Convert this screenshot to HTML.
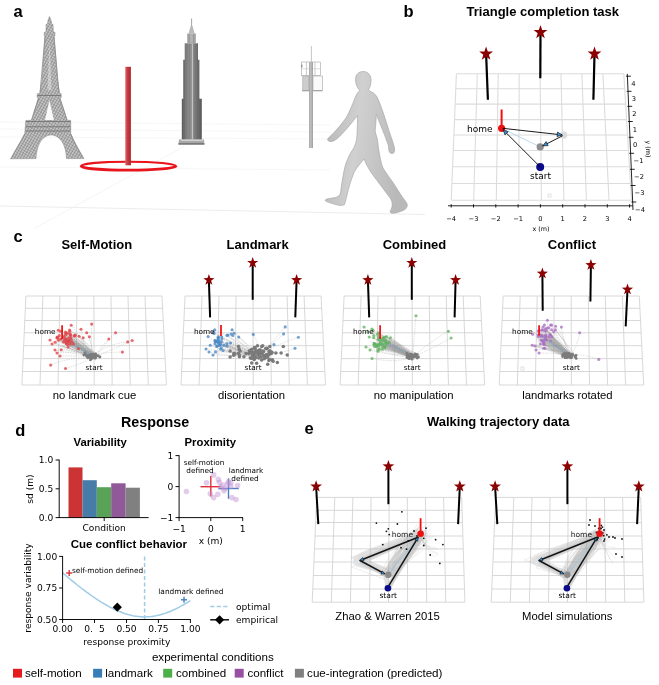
<!DOCTYPE html>
<html><head><meta charset="utf-8"><title>Figure</title>
<style>html,body{margin:0;padding:0;background:#fff;}svg{display:block;}</style></head>
<body><svg width="659" height="685" viewBox="0 0 659 685">
<rect width="659" height="685" fill="#fff"/>
<text x="13.6" y="17" font-size="16.5" text-anchor="start" font-weight="bold" font-family="Liberation Sans, Arial, sans-serif" fill="#000" >a</text>
<g stroke="#eeeeee" stroke-width="0.6" fill="none">
<line x1="0" y1="122" x2="330" y2="125" stroke="#f0f0f0" stroke-width="0.6" />
<line x1="0" y1="129" x2="330" y2="132" stroke="#f0f0f0" stroke-width="0.6" />
<line x1="0" y1="137" x2="330" y2="139" stroke="#f0f0f0" stroke-width="0.6" />
<line x1="0" y1="167" x2="330" y2="170" stroke="#f0f0f0" stroke-width="0.6" />
<line x1="0" y1="206" x2="425" y2="214.5" stroke="#e4e4e4" stroke-width="0.7" />
<line x1="35" y1="228" x2="185" y2="146" stroke="#eeeeee" stroke-width="0.6" />
</g>
<defs>
<pattern id="lat" width="2.6" height="2.6" patternUnits="userSpaceOnUse" patternTransform="rotate(30)">
<rect width="2.6" height="2.6" fill="#c6c6c6"/><line x1="0" y1="0" x2="0" y2="2.6" stroke="#666" stroke-width="0.9"/><line x1="0" y1="1.3" x2="2.6" y2="1.3" stroke="#8a8a8a" stroke-width="0.5"/>
</pattern>
<linearGradient id="pole" x1="0" x2="1" y1="0" y2="0"><stop offset="0" stop-color="#d8666a"/><stop offset="0.4" stop-color="#c93a40"/><stop offset="1" stop-color="#a8262d"/></linearGradient>
<linearGradient id="esb" x1="0" x2="1"><stop offset="0" stop-color="#5e5e5e"/><stop offset="0.25" stop-color="#8a8a8a"/><stop offset="0.5" stop-color="#9c9c9c"/><stop offset="0.75" stop-color="#787878"/><stop offset="1" stop-color="#5a5a5a"/></linearGradient>
<linearGradient id="man" x1="0" x2="1" y1="0" y2="0.2"><stop offset="0" stop-color="#b4b4b4"/><stop offset="0.45" stop-color="#d0d0d0"/><stop offset="1" stop-color="#b9b9b9"/></linearGradient>
</defs>
<path d="M49.5 16.5 L51.3 21 L51.5 23.5 L53 24.5 L53.3 32 L55 32.4 L55 35.7 L54 36.3 L55.5 55 L57.5 80 L59.6 93.5 L61.2 93.8 L61.2 97.5 L59.8 97.8 L63.5 109 L67 120.2 L70.7 120.5 L70.7 133.5 C74 142 79 150 84 158.6 L66.5 158.6 C66 142 58 135 51.3 135 C44 135 37 142 36 158.6 L10.5 158.8 C16 150 21 142 24.8 133.5 L25.8 120.5 L31.8 120.2 L35 109 L38.5 97.8 L37.2 97.5 L37.2 93.8 L39.9 93.5 L42 80 L43.8 55 L45 36.3 L44.2 35.7 L44.2 32.4 L46 32 L46 24.5 L47.8 23.5 L47.8 21 Z" fill="url(#lat)" stroke="#808080" stroke-width="0.5"/>
<path d="M49.4 100.5 L53.9 120 L45 120 Z" fill="#fafafa"/>
<path d="M49.5 40 L51.5 90 L47.5 90 Z" fill="#fff" opacity="0.35"/>
<path d="M37.5 95.5 H61 M26 121.5 H70.5 M26 126.8 H70.5 M25.5 131 H70.5" stroke="#7a7a7a" stroke-width="1.1" fill="none"/>
<path d="M45 36.5 L40 93 M54 36.5 L59 93 M38.6 98 L31.5 120 M59.8 98 L67 120 M24.8 134 C20 143 15 150 12 157.5 M70.7 134 C74 142 78 149 82.5 157" stroke="#8a8a8a" stroke-width="0.8" fill="none"/>
<path d="M81 166 A47.5 4.2 0 0 1 176 166" fill="none" stroke="#e8141c" stroke-width="2"/>
<path d="M81 166 A47.5 4.2 0 0 0 176 166" fill="none" stroke="#e8141c" stroke-width="2.8"/>
<rect x="125.3" y="66.8" width="5.6" height="98.5" fill="url(#pole)"/>
<line x1="191.6" y1="18.5" x2="191.6" y2="28.5" stroke="#8a8a8a" stroke-width="0.8"/>
<path d="M190.6 26 L192.6 26 L194.6 33.6 L188.6 33.6 Z" fill="#b9b9b9"/>
<rect x="187.1" y="33.4" width="8.9" height="10" fill="#b2b2b2"/>
<rect x="188.5" y="34" width="1" height="9" fill="#8a8a8a"/><rect x="193.3" y="34" width="1" height="9" fill="#8a8a8a"/>
<path d="M184.7 43.2 L198 43.2 L198 59.7 L199.3 59.7 L199.3 98.7 L201.8 98.7 L201.8 139.6 L181.8 139.6 L181.8 98.7 L183.2 98.7 L183.2 59.7 L184.7 59.7 Z" fill="url(#esb)"/>
<g stroke="#555" stroke-width="0.45" opacity="0.65">
<line x1="183.0" y1="99" x2="183.0" y2="139"/>
<line x1="184.6" y1="60" x2="184.6" y2="139"/>
<line x1="186.2" y1="44" x2="186.2" y2="139"/>
<line x1="187.8" y1="44" x2="187.8" y2="139"/>
<line x1="189.4" y1="44" x2="189.4" y2="139"/>
<line x1="191" y1="44" x2="191" y2="139"/>
<line x1="194.2" y1="44" x2="194.2" y2="139"/>
<line x1="195.8" y1="44" x2="195.8" y2="139"/>
<line x1="197.4" y1="44" x2="197.4" y2="139"/>
<line x1="199" y1="60" x2="199" y2="139"/>
<line x1="200.6" y1="99" x2="200.6" y2="139"/>
</g>
<rect x="191.9" y="44" width="1.1" height="95" fill="#c2c2c2"/>
<path d="M179 139.4 H204 L204.4 144.4 H178.5 Z" fill="#a8a8a8"/>
<path d="M178.5 143.2 H204.4 V144.6 H178.5 Z" fill="#6e6e6e"/>
<path d="M181 140.5 H203" stroke="#ddd" stroke-width="0.8"/>
<line x1="311.4" y1="46" x2="311.4" y2="62" stroke="#a0a0a0" stroke-width="0.6"/>
<g fill="none" stroke="#a4a4a4" stroke-width="0.6">
<rect x="301.6" y="62" width="19" height="13.4"/>
<line x1="306.4" y1="62" x2="306.4" y2="75.4"/><line x1="315" y1="62" x2="315" y2="75.4"/><line x1="301.6" y1="68.8" x2="320.6" y2="68.8" stroke="#c8c8c8"/>
<rect x="302.8" y="76" width="6" height="14.6" fill="#cdcdcd"/><rect x="313" y="76" width="9.6" height="14.6" fill="#fafafa"/>
</g>
<rect x="301.2" y="64.5" width="1.2" height="3" fill="#888"/>
<line x1="302" y1="90.8" x2="322.5" y2="90.8" stroke="#8c8c8c" stroke-width="0.8"/>
<rect x="309.1" y="62" width="3.9" height="86" fill="#a6a6a6"/>
<rect x="310.2" y="62" width="1.3" height="86" fill="#c4c4c4"/>
<path d="M363.2 71.5 C368.3 71.5 371.2 75.5 371.1 80.5 C371 85 369.6 88 368.6 89.6 L370.6 91.6 C374.5 93 377 96 378.2 99.5 C381 106 384.5 116 387.5 126 C389.5 133 392.5 140 394 146 C395.2 150 394.8 153.5 392 153.5 C389 153.5 388.5 150 388.6 146 C386 138 382.5 130 379.5 122.5 C377.5 117.5 376.8 115 376.2 114 C376.5 120 375.2 126 375.2 132 C377 137 378 141 378.2 146 C379.5 155 381 163 383 168 C386 173 390 178 394 184 C398 190 402 197 406 202 C408.5 205 407 208.5 404 210 C400 212 395 213.5 392 213.2 C389.8 213 389.8 211 391 209.5 C392.8 206.5 392.6 202 390.5 198.5 C385 191 378 182 372.5 174.5 C369 169.5 366 164 364 159 C360 164 356 168 354 172.5 C351 180 348.5 188 347 195 C346 199 345.5 202 344.5 204.5 C342.5 206 338 205.5 334 204 C330 202.8 326.5 202 325.2 200.6 C325 198.8 330 198.3 334 197.8 C338 197.2 340 195.5 340.6 192 C341.5 185 342.5 178 344 171 C345.5 163 349 155 352.5 150 C355 146.5 356.8 141 357 135 C357.2 128 357.8 121 357.5 115.5 C352.5 122 346 130 340 136 C336 140 332.5 142 330 141.5 C327 141 327 138.5 329.5 137 C334 133 340 126 346 118 C350 111 352.5 104 355 98 C356.5 94 358 92 359.8 90.6 C357.5 88 355.5 84.5 355.5 79.5 C355.5 74.5 358.5 71.5 363.2 71.5 Z" fill="url(#man)" stroke="#a0a0a0" stroke-width="0.6"/>
<text x="403.5" y="16.7" font-size="16.5" text-anchor="start" font-weight="bold" font-family="Liberation Sans, Arial, sans-serif" fill="#000" >b</text>
<text x="542.8" y="15.9" font-size="13" text-anchor="middle" font-weight="bold" font-family="Liberation Sans, Arial, sans-serif" fill="#000" >Triangle completion task</text>
<path d="M456.4 73.7H623.8M455.8 88.8H624.7M455.2 104.1H625.6M454.5 119.6H626.6M453.9 135H627.5M453.2 150.5H628.5M452.6 166.8H629.5M451.9 183.5H630.5M451.2 200.3H631.5M456.4 73.7L451.2 200.3M477.3 73.7L473.7 200.3M498.2 73.7L496.3 200.3M519.2 73.7L518.8 200.3M540.1 73.7L541.4 200.3M561 73.7L563.9 200.3M581.9 73.7L586.4 200.3M602.9 73.7L609 200.3M623.8 73.7L631.5 200.3" stroke="#dcdcdc" stroke-width="1.1" fill="none"/>
<line x1="448" y1="205.8" x2="632.8" y2="205.8" stroke="#000" stroke-width="0.85" />
<line x1="451.2" y1="204.2" x2="451.2" y2="207.6" stroke="#000" stroke-width="0.85" />
<text x="451.2" y="221.4" font-size="6.7" text-anchor="middle" font-weight="normal" font-family="DejaVu Sans, sans-serif" fill="#000" >−4</text>
<line x1="473.5" y1="204.2" x2="473.5" y2="207.6" stroke="#000" stroke-width="0.85" />
<text x="473.5" y="221.4" font-size="6.7" text-anchor="middle" font-weight="normal" font-family="DejaVu Sans, sans-serif" fill="#000" >−3</text>
<line x1="495.8" y1="204.2" x2="495.8" y2="207.6" stroke="#000" stroke-width="0.85" />
<text x="495.8" y="221.4" font-size="6.7" text-anchor="middle" font-weight="normal" font-family="DejaVu Sans, sans-serif" fill="#000" >−2</text>
<line x1="518.1" y1="204.2" x2="518.1" y2="207.6" stroke="#000" stroke-width="0.85" />
<text x="518.1" y="221.4" font-size="6.7" text-anchor="middle" font-weight="normal" font-family="DejaVu Sans, sans-serif" fill="#000" >−1</text>
<line x1="540.4" y1="204.2" x2="540.4" y2="207.6" stroke="#000" stroke-width="0.85" />
<text x="540.4" y="221.4" font-size="6.7" text-anchor="middle" font-weight="normal" font-family="DejaVu Sans, sans-serif" fill="#000" >0</text>
<line x1="562.7" y1="204.2" x2="562.7" y2="207.6" stroke="#000" stroke-width="0.85" />
<text x="562.7" y="221.4" font-size="6.7" text-anchor="middle" font-weight="normal" font-family="DejaVu Sans, sans-serif" fill="#000" >1</text>
<line x1="585" y1="204.2" x2="585" y2="207.6" stroke="#000" stroke-width="0.85" />
<text x="585" y="221.4" font-size="6.7" text-anchor="middle" font-weight="normal" font-family="DejaVu Sans, sans-serif" fill="#000" >2</text>
<line x1="607.3" y1="204.2" x2="607.3" y2="207.6" stroke="#000" stroke-width="0.85" />
<text x="607.3" y="221.4" font-size="6.7" text-anchor="middle" font-weight="normal" font-family="DejaVu Sans, sans-serif" fill="#000" >3</text>
<line x1="629.6" y1="204.2" x2="629.6" y2="207.6" stroke="#000" stroke-width="0.85" />
<text x="629.6" y="221.4" font-size="6.7" text-anchor="middle" font-weight="normal" font-family="DejaVu Sans, sans-serif" fill="#000" >4</text>
<text x="541" y="230.6" font-size="6.4" text-anchor="middle" font-weight="normal" font-family="DejaVu Sans, sans-serif" fill="#000" >x (m)</text>
<line x1="627.3" y1="73.8" x2="633" y2="210" stroke="#000" stroke-width="0.85" />
<line x1="626.1" y1="76.2" x2="630.9" y2="76.2" stroke="#000" stroke-width="0.85" />
<line x1="626.7" y1="91.3" x2="631.5" y2="91.3" stroke="#000" stroke-width="0.85" />
<line x1="627.4" y1="106.3" x2="632.2" y2="106.3" stroke="#000" stroke-width="0.85" />
<line x1="628" y1="121.5" x2="632.8" y2="121.5" stroke="#000" stroke-width="0.85" />
<line x1="628.7" y1="137.3" x2="633.5" y2="137.3" stroke="#000" stroke-width="0.85" />
<line x1="629.3" y1="153.3" x2="634.1" y2="153.3" stroke="#000" stroke-width="0.85" />
<line x1="630" y1="169.3" x2="634.8" y2="169.3" stroke="#000" stroke-width="0.85" />
<line x1="630.7" y1="185.5" x2="635.5" y2="185.5" stroke="#000" stroke-width="0.85" />
<line x1="631.4" y1="202" x2="636.2" y2="202" stroke="#000" stroke-width="0.85" />
<text x="631.3" y="86.2" font-size="6.7" text-anchor="start" font-weight="normal" font-family="DejaVu Sans, sans-serif" fill="#000" >4</text>
<text x="631.7" y="101.1" font-size="6.7" text-anchor="start" font-weight="normal" font-family="DejaVu Sans, sans-serif" fill="#000" >3</text>
<text x="632.2" y="116" font-size="6.7" text-anchor="start" font-weight="normal" font-family="DejaVu Sans, sans-serif" fill="#000" >2</text>
<text x="632.7" y="131.6" font-size="6.7" text-anchor="start" font-weight="normal" font-family="DejaVu Sans, sans-serif" fill="#000" >1</text>
<text x="633.1" y="147.2" font-size="6.7" text-anchor="start" font-weight="normal" font-family="DejaVu Sans, sans-serif" fill="#000" >0</text>
<text x="633.6" y="163.1" font-size="6.7" text-anchor="start" font-weight="normal" font-family="DejaVu Sans, sans-serif" fill="#000" >−1</text>
<text x="634.1" y="179.3" font-size="6.7" text-anchor="start" font-weight="normal" font-family="DejaVu Sans, sans-serif" fill="#000" >−2</text>
<text x="634.6" y="195.4" font-size="6.7" text-anchor="start" font-weight="normal" font-family="DejaVu Sans, sans-serif" fill="#000" >−3</text>
<text x="635.1" y="212" font-size="6.7" text-anchor="start" font-weight="normal" font-family="DejaVu Sans, sans-serif" fill="#000" >−4</text>
<text x="645.5" y="149" font-size="6.4" text-anchor="middle" font-weight="normal" font-family="DejaVu Sans, sans-serif" fill="#000" transform="rotate(90 645.5 149)">y (m)</text>
<line x1="486.1" y1="53.9" x2="487.9" y2="99.7" stroke="#000" stroke-width="2.2" />
<polygon points="486.1,46.6 487.8,51.5 493,51.6 488.9,54.8 490.4,59.8 486.1,56.8 481.8,59.8 483.3,54.8 479.2,51.6 484.4,51.5" fill="#8b0000"/>
<line x1="540.5" y1="32.3" x2="540.3" y2="78.2" stroke="#000" stroke-width="2.2" />
<polygon points="540.5,25 542.2,29.9 547.4,30 543.3,33.2 544.8,38.2 540.5,35.2 536.2,38.2 537.7,33.2 533.6,30 538.8,29.9" fill="#8b0000"/>
<line x1="594.5" y1="53.9" x2="593.4" y2="99.7" stroke="#000" stroke-width="2.2" />
<polygon points="594.5,46.6 596.2,51.5 601.4,51.6 597.3,54.8 598.8,59.8 594.5,56.8 590.2,59.8 591.7,54.8 587.6,51.6 592.8,51.5" fill="#8b0000"/>
<rect x="548" y="194" width="3" height="3" fill="none" stroke="#cfcfcf" stroke-width="0.6"/>
<line x1="540.2" y1="146.9" x2="501.6" y2="128.3" stroke="#a6d4ea" stroke-width="0.8" />
<circle cx="563.7" cy="135.2" r="3.6" fill="#dcdcdc"/>
<circle cx="540.2" cy="146.9" r="3.6" fill="#8c8c8c"/>
<line x1="501.6" y1="126.3" x2="501.6" y2="109.5" stroke="#f01010" stroke-width="2" />
<circle cx="501.6" cy="128.3" r="3.6" fill="#ee1111"/>
<circle cx="540.2" cy="166.9" r="4" fill="#0a0a8a"/>
<line x1="540.2" y1="166.9" x2="503.1" y2="129.8" stroke="#000" stroke-width="0.9" />
<polygon points="503.1,129.8 508.2,131.7 505,134.9" fill="#3d8fd0" stroke="#000" stroke-width="0.6"/>
<line x1="502.6" y1="128.3" x2="562.2" y2="134.9" stroke="#000" stroke-width="0.9" />
<polygon points="562.2,134.9 557,136.6 557.5,132.1" fill="#3d8fd0" stroke="#000" stroke-width="0.6"/>
<line x1="562.7" y1="135.7" x2="542.7" y2="145.9" stroke="#000" stroke-width="0.9" />
<polygon points="542.7,145.9 546.1,141.6 548.2,145.6" fill="#3d8fd0" stroke="#000" stroke-width="0.6"/>
<text x="467" y="132" font-size="9" text-anchor="start" font-weight="normal" font-family="DejaVu Sans, sans-serif" fill="#000" >home</text>
<text x="540.5" y="179" font-size="9" text-anchor="middle" font-weight="normal" font-family="DejaVu Sans, sans-serif" fill="#000" >start</text>
<text x="13.6" y="241.7" font-size="16.5" text-anchor="start" font-weight="bold" font-family="Liberation Sans, Arial, sans-serif" fill="#000" >c</text>
<text x="96.8" y="249.2" font-size="13" text-anchor="middle" font-weight="bold" font-family="Liberation Sans, Arial, sans-serif" fill="#000" >Self-Motion</text>
<path d="M25.9 296H162M25.3 308.3H162.6M24.8 320.5H163.2M24.2 332.8H163.8M23.7 345.7H164.5M23.1 358.6H165.1M22.5 371.5H165.7M21.9 385H166.4M25.9 296L21.9 385M42.9 296L40 385M59.9 296L58 385M76.9 296L76.1 385M93.9 296L94.2 385M111 296L112.2 385M128 296L130.3 385M145 296L148.3 385M162 296L166.4 385" stroke="#d4d4d4" stroke-width="0.9" fill="none"/>
<text x="94.5" y="398.5" font-size="11.3" text-anchor="middle" font-weight="normal" font-family="Liberation Sans, Arial, sans-serif" fill="#000" >no landmark cue</text>
<text x="257.6" y="249.2" font-size="13" text-anchor="middle" font-weight="bold" font-family="Liberation Sans, Arial, sans-serif" fill="#000" >Landmark</text>
<path d="M185 296H321.1M184.4 308.3H321.7M183.9 320.5H322.3M183.3 332.8H322.9M182.8 345.7H323.6M182.2 358.6H324.2M181.6 371.5H324.8M181 385H325.5M185 296L181 385M202 296L199.1 385M219 296L217.1 385M236 296L235.2 385M253.1 296L253.2 385M270.1 296L271.3 385M287.1 296L289.4 385M304.1 296L307.4 385M321.1 296L325.5 385" stroke="#d4d4d4" stroke-width="0.9" fill="none"/>
<text x="251.5" y="398.5" font-size="11.3" text-anchor="middle" font-weight="normal" font-family="Liberation Sans, Arial, sans-serif" fill="#000" >disorientation</text>
<text x="414.5" y="249.2" font-size="13" text-anchor="middle" font-weight="bold" font-family="Liberation Sans, Arial, sans-serif" fill="#000" >Combined</text>
<path d="M344.1 296H480.2M343.5 308.3H480.8M343 320.5H481.4M342.4 332.8H482M341.9 345.7H482.7M341.3 358.6H483.3M340.7 371.5H483.9M340.1 385H484.6M344.1 296L340.1 385M361.1 296L358.2 385M378.1 296L376.2 385M395.1 296L394.3 385M412.1 296L412.4 385M429.2 296L430.4 385M446.2 296L448.5 385M463.2 296L466.5 385M480.2 296L484.6 385" stroke="#d4d4d4" stroke-width="0.9" fill="none"/>
<text x="413.6" y="398.5" font-size="11.3" text-anchor="middle" font-weight="normal" font-family="Liberation Sans, Arial, sans-serif" fill="#000" >no manipulation</text>
<text x="572" y="249.2" font-size="13" text-anchor="middle" font-weight="bold" font-family="Liberation Sans, Arial, sans-serif" fill="#000" >Conflict</text>
<path d="M503.2 296H639.3M502.6 308.3H639.9M502.1 320.5H640.5M501.5 332.8H641.1M501 345.7H641.8M500.4 358.6H642.4M499.8 371.5H643M499.2 385H643.7M503.2 296L499.2 385M520.2 296L517.3 385M537.2 296L535.3 385M554.2 296L553.4 385M571.2 296L571.4 385M588.3 296L589.5 385M605.3 296L607.6 385M622.3 296L625.6 385M639.3 296L643.7 385" stroke="#d4d4d4" stroke-width="0.9" fill="none"/>
<text x="567.4" y="398.5" font-size="11.3" text-anchor="middle" font-weight="normal" font-family="Liberation Sans, Arial, sans-serif" fill="#000" >landmarks rotated</text>
<line x1="208.9" y1="280" x2="210.1" y2="317.4" stroke="#000" stroke-width="2" />
<polygon points="208.9,274.1 210.3,278.1 214.5,278.2 211.1,280.7 212.4,284.8 208.9,282.4 205.4,284.8 206.7,280.7 203.3,278.2 207.5,278.1" fill="#8b0000"/>
<line x1="252.7" y1="262.9" x2="252.7" y2="299.8" stroke="#000" stroke-width="2" />
<polygon points="252.7,257 254.1,261 258.3,261.1 254.9,263.6 256.2,267.7 252.7,265.3 249.2,267.7 250.5,263.6 247.1,261.1 251.3,261" fill="#8b0000"/>
<line x1="296.6" y1="280" x2="295.3" y2="317.4" stroke="#000" stroke-width="2" />
<polygon points="296.6,274.1 298,278.1 302.2,278.2 298.8,280.7 300.1,284.8 296.6,282.4 293.1,284.8 294.4,280.7 291,278.2 295.2,278.1" fill="#8b0000"/>
<line x1="367.9" y1="280" x2="369.2" y2="317.4" stroke="#000" stroke-width="2" />
<polygon points="367.9,274.1 369.3,278.1 373.5,278.2 370.1,280.7 371.4,284.8 367.9,282.4 364.4,284.8 365.7,280.7 362.3,278.2 366.5,278.1" fill="#8b0000"/>
<line x1="411.8" y1="262.9" x2="411.8" y2="299.8" stroke="#000" stroke-width="2" />
<polygon points="411.8,257 413.2,261 417.4,261.1 414,263.6 415.3,267.7 411.8,265.3 408.3,267.7 409.6,263.6 406.2,261.1 410.4,261" fill="#8b0000"/>
<line x1="455.6" y1="280" x2="454.6" y2="317.4" stroke="#000" stroke-width="2" />
<polygon points="455.6,274.1 457,278.1 461.2,278.2 457.8,280.7 459.1,284.8 455.6,282.4 452.1,284.8 453.4,280.7 450,278.2 454.2,278.1" fill="#8b0000"/>
<line x1="542.4" y1="273.5" x2="542.7" y2="310.7" stroke="#000" stroke-width="2" />
<polygon points="542.4,267.6 543.8,271.6 548,271.7 544.6,274.2 545.9,278.3 542.4,275.9 538.9,278.3 540.2,274.2 536.8,271.7 541,271.6" fill="#8b0000"/>
<line x1="590.9" y1="265" x2="590.4" y2="301.6" stroke="#000" stroke-width="2" />
<polygon points="590.9,259.1 592.3,263.1 596.5,263.2 593.1,265.7 594.4,269.8 590.9,267.4 587.4,269.8 588.7,265.7 585.3,263.2 589.5,263.1" fill="#8b0000"/>
<line x1="627.5" y1="289.5" x2="625.7" y2="326.4" stroke="#000" stroke-width="2" />
<polygon points="627.5,283.6 628.9,287.6 633.1,287.7 629.7,290.2 631,294.3 627.5,291.9 624,294.3 625.3,290.2 621.9,287.7 626.1,287.6" fill="#8b0000"/>
<g fill="none" stroke="#9a9a9a" stroke-width="0.45" stroke-dasharray="1.5 1" opacity="0.7">
<path d="M94.3 355.1Q76.8 350.4 58.3 340.3"/>
<path d="M96.2 356.7Q81.8 346.6 70.5 334.9"/>
<path d="M92.5 356.8Q76.1 350.9 57.7 337.6"/>
<path d="M90.4 355.1Q85.3 349.4 67.6 344.6"/>
<path d="M97.1 355Q77.1 344.7 58.3 330.2"/>
<path d="M93.7 353.6Q81.4 350.4 68.9 340.8"/>
<path d="M96 355.1Q86.9 356.9 73.4 343.9"/>
<path d="M99 356.6Q77.6 346.8 64.4 336.4"/>
<path d="M93.8 357.9Q87 350.8 79.1 336.3"/>
<path d="M95.4 357.4Q74.6 342.2 60.7 331.2"/>
<path d="M90.4 355.3Q82.4 348.3 65.5 338.9"/>
<path d="M95.2 355.7Q76.1 345.2 63.1 337.6"/>
<path d="M93.3 356.1Q83.4 349.3 66.5 342.2"/>
<path d="M93 355.8Q84.2 350.2 71 339.3"/>
<path d="M96.9 355.8Q69.1 353.9 55.2 342.2"/>
<path d="M94.3 356.2Q73.7 342.8 57.2 337"/>
<path d="M92.4 353.6Q84.2 347.7 56.9 338"/>
<path d="M90.8 356.2Q83 348.2 60.7 339.3"/>
<path d="M96.2 356.6Q82.1 357.3 83.2 337.7"/>
<path d="M93.7 354.4Q81.1 336.6 69.6 330.1"/>
<path d="M92.2 357.2Q81.1 342.6 63.4 342"/>
<path d="M90.9 356.9Q85.8 344.6 64.5 340.2"/>
<path d="M92.6 355.3Q83.2 341 65.6 332"/>
<path d="M96.5 356.7Q76.3 342.5 68.1 333.1"/>
<path d="M93.7 355Q92.9 345.2 75.3 335"/>
<path d="M90.4 356.7Q80.9 343.1 68.8 338"/>
<path d="M96.7 356.3Q87.9 347.7 70.2 334.4"/>
<path d="M93.3 354.9Q79.4 346.9 70.5 337.3"/>
<path d="M94 356.2Q76.2 344.4 71.9 341.7"/>
<path d="M94.4 356.6Q78 348.9 65.8 333.3"/>
<path d="M90.1 356.8Q86.5 345.9 69.2 340.8"/>
<path d="M94.7 357Q81.3 349.8 74 335.7"/>
<path d="M95.4 355.3Q84.1 342.3 68.1 341"/>
<path d="M95.5 356.9Q77.3 346.3 66.6 339.3"/>
<path d="M92.8 353.6Q84 340.2 66 334.4"/>
<path d="M92.5 356.2Q76.3 347.6 59.4 335.6"/>
<path d="M92.4 355.2Q82.1 354.6 68.2 347.1"/>
<path d="M96.2 355.9Q79.1 355.4 70.4 344.3"/>
<path d="M94.4 355.8Q82.5 349.4 69.3 342.2"/>
<path d="M92.7 357.7Q78.7 345.5 66 342.6"/>
<path d="M93.6 356.1Q86.5 346.2 74.8 336"/>
<path d="M94.4 356.2Q79 350.9 61.2 349.8"/>
<path d="M92 354.9Q77.2 347.5 66.3 343.8"/>
<path d="M93.5 355.4Q85.5 336.5 69.8 331.2"/>
<path d="M96.3 356.1Q83.7 352.6 78.4 348.7"/>
<path d="M93.7 356.9Q82 338.8 71.2 325.3"/>
<path d="M91.5 354.9Q91.3 336.6 91.7 324.1"/>
<path d="M94.7 355.8Q99.2 347.7 115.6 332.8"/>
<path d="M95.5 356.8Q118.9 346.3 132.2 340.5"/>
<path d="M92.1 356.9Q104.7 344.3 127.7 341.9"/>
<path d="M96.1 355.6Q106.6 343.8 108.8 339"/>
<path d="M93.4 354.2Q106.6 352.4 122.4 352.1"/>
<path d="M95 358.1Q68.3 356.8 50.7 365.1"/>
<path d="M90.6 355.6Q90.7 361.2 65.5 368.5"/>
<path d="M95.1 355.3Q83.7 348.5 81 329.2"/>
<path d="M90.7 355.5Q94.1 346 86.7 332.8"/>
<path d="M94.3 355.7Q90.7 346.4 89.4 336.7"/>
<path d="M92.2 357.5Q73.8 348.2 52 344"/>
<path d="M90.8 355.8Q75.9 354.3 55 350"/>
<path d="M96.2 355.6Q78.8 350.6 57 353"/>
<path d="M94.4 357.2Q78.6 355.6 60 356"/>
<path d="M92.4 355.1Q70.4 352.7 50 340"/>
</g>
<g stroke="#747474" stroke-width="0.5" opacity="0.38" fill="none">
<path d="M67 336Q81.8 343.9 93.1 357.1"/>
<path d="M66.3 344.3Q80.7 349.5 97 355.7"/>
<path d="M60.5 338.3Q78.8 346.7 93.5 355.8"/>
<path d="M59.4 341.9Q75.2 348.2 91.3 355.5"/>
<path d="M61 338.3Q80 348.5 99.5 355.3"/>
<path d="M67.1 341.1Q80.3 347.6 96.2 353.6"/>
<path d="M66.2 342.6Q80.8 348.9 95.2 355.7"/>
<path d="M65.4 340.9Q78 349.6 93.2 355"/>
<path d="M69 341.8Q82.6 350.4 96.1 357"/>
<path d="M60.8 338.4Q75.6 347.5 92.2 356.9"/>
<path d="M65.9 342.8Q80.2 347.2 92 354.9"/>
<path d="M66.1 337.4Q81 344.9 93.7 353.8"/>
<path d="M61.4 344.8Q79.2 352 95.8 360.2"/>
<path d="M64.9 343.5Q80.2 348.7 93.9 356.5"/>
<path d="M65 337.6Q78.9 347.4 90.9 357"/>
<path d="M61.3 333.4Q75.7 344.5 95.2 355.9"/>
<path d="M59.2 338.9Q77.1 347.9 94.4 356.4"/>
<path d="M60.5 337.9Q77 347.8 92.7 355.7"/>
<path d="M70.2 331.8Q86 345.2 95 355.8"/>
<path d="M58.7 340.1Q74.1 348.5 92.7 357.2"/>
<path d="M64 338.7Q79 347.8 92.5 353.8"/>
<path d="M64.3 336.2Q79.1 346.4 94.5 356.7"/>
<path d="M69.4 335.9Q80 343.7 92.6 353.7"/>
<path d="M61.1 337.1Q79.6 349.7 98.5 355.8"/>
<path d="M64.3 334.1Q82.1 342.6 95 354.9"/>
<path d="M62.5 334.5Q78.3 344.1 94.2 354.8"/>
<path d="M62.4 341.6Q78 347.3 96.3 356.1"/>
<path d="M65.4 345.7Q78.1 348.7 92.9 355.1"/>
<path d="M61.1 338.4Q78.6 344.8 97.6 356"/>
<path d="M65.2 338.9Q78 348.3 90.9 354.7"/>
<path d="M66.7 339.6Q79.9 351.2 93.2 356.4"/>
<path d="M60.5 338Q81 346.8 97.2 355.7"/>
<path d="M65 338Q81.1 347.4 90.5 354.8"/>
<path d="M66.6 341.7Q80.6 349.1 95.4 357.2"/>
<path d="M67.9 338Q78.5 347.8 90.7 355.7"/>
<path d="M62 336Q77.5 347.2 93.2 357.9"/>
<path d="M64.5 339.8Q78 350.8 96.3 357.7"/>
<path d="M64.5 338.1Q85.2 348.4 100 355.8"/>
<path d="M60.9 340.4Q74.9 347.6 95.8 355.8"/>
<path d="M63.8 335.9Q80.6 345.4 98.6 355.7"/>
<path d="M61.8 336.8Q77.2 346.5 94.2 356.4"/>
<path d="M59.6 340.5Q74.5 347.6 92.1 356.3"/>
<path d="M65.3 335.6Q82.6 344.7 100.2 356"/>
<path d="M70.1 342.9Q81.7 349.5 94.7 354.4"/>
<path d="M62.7 335.7Q76.9 344.4 91 355.1"/>
<path d="M64.6 346.8Q82 350.9 98.4 354.8"/>
<path d="M64 341.9Q78 348.6 93.2 355.6"/>
<path d="M69 341.2Q78.6 349.5 90.6 355.5"/>
<path d="M65.3 341.5Q80.2 347.9 93.8 353.7"/>
<path d="M66.3 335.4Q79.2 345.8 94.2 355.2"/>
<path d="M65.7 336.5Q76.9 346.4 89.7 353"/>
<path d="M64.3 332.7Q80.6 346.4 91.8 356.5"/>
<path d="M65.8 339.6Q78.1 346.3 91.4 355.5"/>
<path d="M64.7 337.9Q80.9 348.4 94.8 357.7"/>
<path d="M63.7 334.7Q77.2 347.6 93.7 356.7"/>
<path d="M63.3 340Q81.4 345.5 93.2 354.5"/>
<path d="M67.7 337.4Q80.6 347.6 94.7 355"/>
<path d="M71.3 336.6Q81.7 347.9 94 357.1"/>
<path d="M61.8 340.7Q79 347.3 95.1 357.5"/>
<path d="M66.8 335.9Q82.2 346 95.9 357.8"/>
<path d="M68.7 339.5Q81.9 347.1 90.9 355.6"/>
<path d="M64.9 338Q77.9 347 89.8 355.4"/>
<path d="M63.9 333Q82 346.9 97.1 356.9"/>
<path d="M62.9 337.3Q76.3 347.3 94.8 358"/>
<path d="M62 340.6Q78 348.2 97.7 355.6"/>
<path d="M63.5 334.7Q80.9 343.1 96.2 355.4"/>
<path d="M68.3 335Q84.6 343.8 96.6 353.8"/>
<path d="M59.1 338.3Q76.2 347 94.8 354.8"/>
<path d="M63.9 330.4Q78.9 345 92.9 356.5"/>
<path d="M62.1 346.1Q80.7 352.7 96 356.4"/>
</g>
<line x1="63.5" y1="339" x2="94" y2="356" stroke="#6aa6d0" stroke-width="0.7" />
<g fill="#7c7c7c">
<circle cx="92.3" cy="355.2" r="1.4"/>
<circle cx="95.5" cy="356.5" r="1.4"/>
<circle cx="85.6" cy="354.6" r="1.4"/>
<circle cx="93.6" cy="356.1" r="1.4"/>
<circle cx="93" cy="356.8" r="1.4"/>
<circle cx="92.5" cy="358.1" r="1.4"/>
<circle cx="90" cy="355.5" r="1.4"/>
<circle cx="93.1" cy="357" r="1.4"/>
<circle cx="94.7" cy="357.9" r="1.4"/>
<circle cx="90.4" cy="357.5" r="1.4"/>
<circle cx="93.6" cy="354.6" r="1.4"/>
<circle cx="91.5" cy="358.7" r="1.4"/>
<circle cx="94.7" cy="355.4" r="1.4"/>
<circle cx="83.8" cy="355" r="1.4"/>
<circle cx="89.6" cy="356.1" r="1.4"/>
<circle cx="99.9" cy="357" r="1.4"/>
<circle cx="93.1" cy="354.8" r="1.4"/>
<circle cx="88" cy="355.7" r="1.4"/>
<circle cx="90.4" cy="359.9" r="1.4"/>
<circle cx="90.6" cy="355.2" r="1.4"/>
<circle cx="95.8" cy="356.1" r="1.4"/>
<circle cx="87.8" cy="357.7" r="1.4"/>
<circle cx="90.9" cy="354.3" r="1.4"/>
<circle cx="93.1" cy="356.6" r="1.4"/>
<circle cx="90.9" cy="356.9" r="1.4"/>
<circle cx="94.8" cy="354.9" r="1.4"/>
<circle cx="85" cy="352.9" r="1.4"/>
<circle cx="91.6" cy="357.6" r="1.4"/>
<circle cx="95.4" cy="357.8" r="1.4"/>
<circle cx="98.3" cy="356" r="1.4"/>
<circle cx="95.6" cy="354" r="1.4"/>
<circle cx="94.3" cy="356.5" r="1.4"/>
<circle cx="91.7" cy="355.4" r="1.4"/>
<circle cx="88.2" cy="356.2" r="1.4"/>
<circle cx="96.3" cy="355.5" r="1.4"/>
<circle cx="93.8" cy="355.1" r="1.4"/>
<circle cx="92.9" cy="354.7" r="1.4"/>
<circle cx="93.3" cy="355.7" r="1.4"/>
<circle cx="93.1" cy="355.2" r="1.4"/>
<circle cx="88" cy="355.6" r="1.4"/>
<circle cx="95.5" cy="358.1" r="1.4"/>
<circle cx="90.9" cy="357" r="1.4"/>
<circle cx="94.6" cy="356.5" r="1.4"/>
<circle cx="86.7" cy="356.4" r="1.4"/>
<circle cx="88.7" cy="357.5" r="1.4"/>
</g>
<g fill="#e04346" fill-opacity="0.78">
<circle cx="58.3" cy="340.3" r="1.55"/>
<circle cx="70.5" cy="334.9" r="1.55"/>
<circle cx="57.7" cy="337.6" r="1.55"/>
<circle cx="67.6" cy="344.6" r="1.55"/>
<circle cx="58.3" cy="330.2" r="1.55"/>
<circle cx="68.9" cy="340.8" r="1.55"/>
<circle cx="73.4" cy="343.9" r="1.55"/>
<circle cx="64.4" cy="336.4" r="1.55"/>
<circle cx="79.1" cy="336.3" r="1.55"/>
<circle cx="60.7" cy="331.2" r="1.55"/>
<circle cx="65.5" cy="338.9" r="1.55"/>
<circle cx="63.1" cy="337.6" r="1.55"/>
<circle cx="66.5" cy="342.2" r="1.55"/>
<circle cx="71" cy="339.3" r="1.55"/>
<circle cx="55.2" cy="342.2" r="1.55"/>
<circle cx="57.2" cy="337" r="1.55"/>
<circle cx="56.9" cy="338" r="1.55"/>
<circle cx="60.7" cy="339.3" r="1.55"/>
<circle cx="83.2" cy="337.7" r="1.55"/>
<circle cx="69.6" cy="330.1" r="1.55"/>
<circle cx="63.4" cy="342" r="1.55"/>
<circle cx="64.5" cy="340.2" r="1.55"/>
<circle cx="65.6" cy="332" r="1.55"/>
<circle cx="68.1" cy="333.1" r="1.55"/>
<circle cx="75.3" cy="335" r="1.55"/>
<circle cx="68.8" cy="338" r="1.55"/>
<circle cx="70.2" cy="334.4" r="1.55"/>
<circle cx="70.5" cy="337.3" r="1.55"/>
<circle cx="71.9" cy="341.7" r="1.55"/>
<circle cx="65.8" cy="333.3" r="1.55"/>
<circle cx="69.2" cy="340.8" r="1.55"/>
<circle cx="74" cy="335.7" r="1.55"/>
<circle cx="68.1" cy="341" r="1.55"/>
<circle cx="66.6" cy="339.3" r="1.55"/>
<circle cx="66" cy="334.4" r="1.55"/>
<circle cx="59.4" cy="335.6" r="1.55"/>
<circle cx="68.2" cy="347.1" r="1.55"/>
<circle cx="70.4" cy="344.3" r="1.55"/>
<circle cx="69.3" cy="342.2" r="1.55"/>
<circle cx="66" cy="342.6" r="1.55"/>
<circle cx="74.8" cy="336" r="1.55"/>
<circle cx="61.2" cy="349.8" r="1.55"/>
<circle cx="66.3" cy="343.8" r="1.55"/>
<circle cx="69.8" cy="331.2" r="1.55"/>
<circle cx="78.4" cy="348.7" r="1.55"/>
<circle cx="71.2" cy="325.3" r="1.55"/>
<circle cx="91.7" cy="324.1" r="1.55"/>
<circle cx="115.6" cy="332.8" r="1.55"/>
<circle cx="132.2" cy="340.5" r="1.55"/>
<circle cx="127.7" cy="341.9" r="1.55"/>
<circle cx="108.8" cy="339" r="1.55"/>
<circle cx="122.4" cy="352.1" r="1.55"/>
<circle cx="50.7" cy="365.1" r="1.55"/>
<circle cx="65.5" cy="368.5" r="1.55"/>
<circle cx="81" cy="329.2" r="1.55"/>
<circle cx="86.7" cy="332.8" r="1.55"/>
<circle cx="89.4" cy="336.7" r="1.55"/>
<circle cx="52" cy="344" r="1.55"/>
<circle cx="55" cy="350" r="1.55"/>
<circle cx="57" cy="353" r="1.55"/>
<circle cx="60" cy="356" r="1.55"/>
<circle cx="50" cy="340" r="1.55"/>
</g>
<g fill="none" stroke="#9a9a9a" stroke-width="0.45" stroke-dasharray="1.5 1" opacity="0.7">
<path d="M260 355.1Q238.4 352.9 227 343.5"/>
<path d="M260.7 355.3Q236.9 350.7 215 340.4"/>
<path d="M262.8 357.5Q236.6 355.1 217.1 345.7"/>
<path d="M257.4 355.9Q234 350.8 219.2 342.9"/>
<path d="M258 357.8Q241.9 343.6 231.2 334.1"/>
<path d="M258.1 355.2Q238.5 345.5 213.4 332.3"/>
<path d="M259.7 358Q233.2 354.4 210.2 345.3"/>
<path d="M254.8 356.4Q240.3 352.5 220.6 349.2"/>
<path d="M256.7 356Q226.2 350.9 208.1 336.6"/>
<path d="M256.1 357.1Q237.1 349.6 226.9 346.1"/>
<path d="M254.1 355.9Q241.9 347.1 223.9 345.4"/>
<path d="M259.2 355.8Q236.6 345.1 219.2 340.9"/>
<path d="M256.9 355.5Q239 348.8 219.2 345.2"/>
<path d="M258.8 354.3Q231.6 351.2 218.1 342.6"/>
<path d="M258.5 357.3Q242.9 349.1 227 335.4"/>
<path d="M255.4 355.1Q235.4 349.9 214.9 343.8"/>
<path d="M258.5 356.5Q230.5 345.4 217.6 340.2"/>
<path d="M256 356.4Q248.9 349.9 230.5 343.1"/>
<path d="M261.9 357Q236.8 356.6 216.7 346.5"/>
<path d="M258.4 355.3Q240.9 344.2 232.8 335.5"/>
<path d="M259.7 356.2Q238.8 350.8 215.3 341.6"/>
<path d="M257.8 357.3Q233.2 351.4 215.5 351.9"/>
<path d="M258.7 356.7Q246.2 350.4 221.9 339"/>
<path d="M259.7 354.5Q243.1 350.4 221.7 337"/>
<path d="M257.1 356.5Q240.6 349.9 215.7 341.5"/>
<path d="M254.6 356.1Q246.2 342.7 232.1 329.7"/>
<path d="M254.8 356.5Q241.9 351.7 221.3 347.8"/>
<path d="M258.9 355.6Q243.4 353.8 223.1 350.6"/>
<path d="M257.3 356.2Q237.1 350.4 221.5 341.7"/>
<path d="M258.3 354.4Q251.2 348.5 218.3 336.7"/>
<path d="M256.6 355.8Q243.4 347.8 228 335.1"/>
<path d="M256.8 356.7Q229.1 348.9 218.3 338.4"/>
<path d="M260 356.3Q241.8 342.5 214.7 329.9"/>
<path d="M256.3 357.3Q236.6 348 216.9 341.7"/>
<path d="M259.7 355.3Q242.4 347.6 219.8 345.2"/>
<path d="M255.4 357.2Q232 350.5 218.1 337.8"/>
<path d="M259 357.2Q240.1 352.9 220.7 344.3"/>
<path d="M258.5 357.1Q237.4 346.4 214 333.4"/>
<path d="M261 355.9Q270 344.5 285.2 326.9"/>
<path d="M257.4 356.3Q272.6 343.4 283.6 333.9"/>
<path d="M257.9 356.2Q276.8 344 298.4 337.3"/>
<path d="M254.5 357.4Q277.8 354.3 295 348.3"/>
<path d="M257.3 356.4Q265.3 348 274 344.6"/>
<path d="M258.3 354.4Q259.1 344.1 253.3 334.4"/>
<path d="M257.1 356.9Q246.7 344.3 234 333.2"/>
<path d="M256.4 357.5Q255.5 349.6 238.7 337.1"/>
<path d="M256.8 356.5Q230.7 352.4 206 349"/>
<path d="M257.6 355.9Q237.7 355.9 213 355"/>
<path d="M257 355.9Q231.9 356.9 209 352"/>
</g>
<g fill="#7a7a7a">
<circle cx="267.7" cy="356.8" r="1.75"/>
<circle cx="239.4" cy="356.8" r="1.75"/>
<circle cx="266.9" cy="348.3" r="1.75"/>
<circle cx="269.2" cy="354.3" r="1.75"/>
<circle cx="259.4" cy="350.8" r="1.75"/>
<circle cx="252.3" cy="352" r="1.75"/>
<circle cx="287.2" cy="354.9" r="1.75"/>
<circle cx="262.8" cy="351.1" r="1.75"/>
<circle cx="255.8" cy="351.5" r="1.75"/>
<circle cx="253.5" cy="357.9" r="1.75"/>
<circle cx="258.7" cy="357.9" r="1.75"/>
<circle cx="251.2" cy="358.2" r="1.75"/>
<circle cx="260.8" cy="357" r="1.75"/>
<circle cx="260.1" cy="350" r="1.75"/>
<circle cx="271.3" cy="352" r="1.75"/>
<circle cx="259.7" cy="350" r="1.75"/>
<circle cx="262.7" cy="352.2" r="1.75"/>
<circle cx="263.4" cy="355.6" r="1.75"/>
<circle cx="255.1" cy="347.7" r="1.75"/>
<circle cx="264.7" cy="358.1" r="1.75"/>
<circle cx="266.9" cy="348.8" r="1.75"/>
<circle cx="266.1" cy="355.7" r="1.75"/>
<circle cx="263.4" cy="355.9" r="1.75"/>
<circle cx="258.2" cy="355" r="1.75"/>
<circle cx="268.9" cy="351.7" r="1.75"/>
<circle cx="248.8" cy="353.5" r="1.75"/>
<circle cx="262.7" cy="345.7" r="1.75"/>
<circle cx="255.2" cy="356.7" r="1.75"/>
<circle cx="259.7" cy="354.4" r="1.75"/>
<circle cx="250.3" cy="358.1" r="1.75"/>
<circle cx="275.9" cy="353.1" r="1.75"/>
<circle cx="254.8" cy="348.8" r="1.75"/>
<circle cx="268.6" cy="354.5" r="1.75"/>
<circle cx="254.2" cy="359.5" r="1.75"/>
<circle cx="267.5" cy="356.7" r="1.75"/>
<circle cx="246" cy="353.5" r="1.75"/>
<circle cx="266.3" cy="348.5" r="1.75"/>
<circle cx="268.9" cy="360.4" r="1.75"/>
<circle cx="269.8" cy="350.8" r="1.75"/>
<circle cx="255" cy="358.2" r="1.75"/>
<circle cx="269.5" cy="359.5" r="1.75"/>
<circle cx="271.2" cy="353.6" r="1.75"/>
<circle cx="257.5" cy="345.7" r="1.75"/>
<circle cx="267.7" cy="364.2" r="1.75"/>
<circle cx="257.1" cy="351.9" r="1.75"/>
<circle cx="266.5" cy="355.7" r="1.75"/>
<circle cx="249.4" cy="350.8" r="1.75"/>
<circle cx="251.7" cy="363.1" r="1.75"/>
<circle cx="254.9" cy="357.8" r="1.75"/>
<circle cx="277.3" cy="362.5" r="1.75"/>
<circle cx="273.1" cy="361.3" r="1.75"/>
<circle cx="250.5" cy="352.4" r="1.75"/>
<circle cx="254.8" cy="352.7" r="1.75"/>
<circle cx="283.3" cy="346.4" r="1.75"/>
<circle cx="265.7" cy="348.4" r="1.75"/>
<circle cx="272.4" cy="359.8" r="1.75"/>
<circle cx="256.6" cy="363.3" r="1.75"/>
<circle cx="261.6" cy="359.9" r="1.75"/>
<circle cx="263.6" cy="351.5" r="1.75"/>
<circle cx="257.8" cy="353.5" r="1.75"/>
<circle cx="266.2" cy="354.6" r="1.75"/>
<circle cx="281.1" cy="353.1" r="1.75"/>
<circle cx="257" cy="350.8" r="1.75"/>
<circle cx="254.4" cy="347.5" r="1.75"/>
<circle cx="252.6" cy="358.1" r="1.75"/>
<circle cx="261.5" cy="353.2" r="1.75"/>
<circle cx="264" cy="358.8" r="1.75"/>
<circle cx="266.2" cy="357.5" r="1.75"/>
<circle cx="256.2" cy="352.8" r="1.75"/>
<circle cx="254.4" cy="353.6" r="1.75"/>
<circle cx="254.1" cy="352.3" r="1.75"/>
<circle cx="259.5" cy="353" r="1.75"/>
<circle cx="258.7" cy="351.8" r="1.75"/>
<circle cx="272.1" cy="352.5" r="1.75"/>
<circle cx="252.4" cy="354.9" r="1.75"/>
<circle cx="251.7" cy="349.2" r="1.75"/>
<circle cx="261.7" cy="346.5" r="1.75"/>
<circle cx="233.6" cy="355.3" r="1.75"/>
<circle cx="269.8" cy="346.5" r="1.75"/>
<circle cx="253.4" cy="356.6" r="1.75"/>
<circle cx="230.1" cy="350.9" r="1.75"/>
<circle cx="234" cy="353.3" r="1.75"/>
<circle cx="230.1" cy="357.1" r="1.75"/>
<circle cx="239.3" cy="355.1" r="1.75"/>
<circle cx="238.4" cy="346.6" r="1.75"/>
<circle cx="239.2" cy="349.3" r="1.75"/>
<circle cx="240.1" cy="351" r="1.75"/>
<circle cx="238.4" cy="353.3" r="1.75"/>
<circle cx="243.9" cy="356.7" r="1.75"/>
<circle cx="235" cy="353.9" r="1.75"/>
</g>
<g fill="#4a88c4" fill-opacity="0.78">
<circle cx="227" cy="343.5" r="1.55"/>
<circle cx="215" cy="340.4" r="1.55"/>
<circle cx="217.1" cy="345.7" r="1.55"/>
<circle cx="219.2" cy="342.9" r="1.55"/>
<circle cx="231.2" cy="334.1" r="1.55"/>
<circle cx="213.4" cy="332.3" r="1.55"/>
<circle cx="210.2" cy="345.3" r="1.55"/>
<circle cx="220.6" cy="349.2" r="1.55"/>
<circle cx="208.1" cy="336.6" r="1.55"/>
<circle cx="226.9" cy="346.1" r="1.55"/>
<circle cx="223.9" cy="345.4" r="1.55"/>
<circle cx="219.2" cy="340.9" r="1.55"/>
<circle cx="219.2" cy="345.2" r="1.55"/>
<circle cx="218.1" cy="342.6" r="1.55"/>
<circle cx="227" cy="335.4" r="1.55"/>
<circle cx="214.9" cy="343.8" r="1.55"/>
<circle cx="217.6" cy="340.2" r="1.55"/>
<circle cx="230.5" cy="343.1" r="1.55"/>
<circle cx="216.7" cy="346.5" r="1.55"/>
<circle cx="232.8" cy="335.5" r="1.55"/>
<circle cx="215.3" cy="341.6" r="1.55"/>
<circle cx="215.5" cy="351.9" r="1.55"/>
<circle cx="221.9" cy="339" r="1.55"/>
<circle cx="221.7" cy="337" r="1.55"/>
<circle cx="215.7" cy="341.5" r="1.55"/>
<circle cx="232.1" cy="329.7" r="1.55"/>
<circle cx="221.3" cy="347.8" r="1.55"/>
<circle cx="223.1" cy="350.6" r="1.55"/>
<circle cx="221.5" cy="341.7" r="1.55"/>
<circle cx="218.3" cy="336.7" r="1.55"/>
<circle cx="228" cy="335.1" r="1.55"/>
<circle cx="218.3" cy="338.4" r="1.55"/>
<circle cx="214.7" cy="329.9" r="1.55"/>
<circle cx="216.9" cy="341.7" r="1.55"/>
<circle cx="219.8" cy="345.2" r="1.55"/>
<circle cx="218.1" cy="337.8" r="1.55"/>
<circle cx="220.7" cy="344.3" r="1.55"/>
<circle cx="214" cy="333.4" r="1.55"/>
<circle cx="285.2" cy="326.9" r="1.55"/>
<circle cx="283.6" cy="333.9" r="1.55"/>
<circle cx="298.4" cy="337.3" r="1.55"/>
<circle cx="295" cy="348.3" r="1.55"/>
<circle cx="274" cy="344.6" r="1.55"/>
<circle cx="253.3" cy="334.4" r="1.55"/>
<circle cx="234" cy="333.2" r="1.55"/>
<circle cx="238.7" cy="337.1" r="1.55"/>
<circle cx="206" cy="349" r="1.55"/>
<circle cx="213" cy="355" r="1.55"/>
<circle cx="209" cy="352" r="1.55"/>
</g>
<g fill="none" stroke="#9a9a9a" stroke-width="0.45" stroke-dasharray="1.5 1" opacity="0.7">
<path d="M415.5 356Q394.6 344.5 378.6 336.9"/>
<path d="M410.1 356.1Q393.4 345.8 378.5 332.9"/>
<path d="M409.5 355.3Q392.5 348.7 382.6 344"/>
<path d="M410.6 357.7Q399.1 352.2 378.1 349.5"/>
<path d="M412 354.6Q391.4 354.4 374.7 344"/>
<path d="M414.5 357.2Q405.3 345.8 383.1 338.1"/>
<path d="M411.9 356.6Q390.6 351.2 378.4 345.9"/>
<path d="M413.1 356.8Q396.7 345.6 380.4 342.5"/>
<path d="M412 356Q399.9 350.8 389.1 342.2"/>
<path d="M415.5 356.9Q392.5 346.9 369.2 337"/>
<path d="M413.3 354.9Q402.5 350.3 385.4 340.3"/>
<path d="M413.5 355.8Q397.2 348.2 373 330.2"/>
<path d="M413.6 355Q397.4 356.2 382.1 349.2"/>
<path d="M412.6 355.1Q391.8 340.3 371.9 329.1"/>
<path d="M415.1 354.4Q394.7 351.4 383.2 338"/>
<path d="M412.3 354.7Q391.7 346.3 378.1 339.2"/>
<path d="M414.4 356.7Q397.1 345 374.2 343.4"/>
<path d="M413.1 356.2Q398.1 347.6 385.9 343"/>
<path d="M414.1 355.9Q386.5 347.7 376.4 346.7"/>
<path d="M411.6 355.3Q394.6 347.2 379.3 344.2"/>
<path d="M416 356.5Q404.4 346.6 374 344.6"/>
<path d="M412.3 357.6Q399.8 352.6 384.8 348"/>
<path d="M412.8 356.2Q398.6 349.7 380.2 343.4"/>
<path d="M411.8 356.6Q390.2 350 376.3 345.8"/>
<path d="M412.6 357Q401.4 346 385 346.9"/>
<path d="M415 355.9Q390.2 341.7 377.5 334.3"/>
<path d="M413.3 355.5Q394.6 344.4 379.6 339.9"/>
<path d="M414.4 355.7Q395 351.4 375.2 344.3"/>
<path d="M412.8 356.2Q397.5 349.7 386.1 343.2"/>
<path d="M411.9 355.4Q398 348.9 387.2 343.2"/>
<path d="M412 356.6Q394 350.3 373.7 337.8"/>
<path d="M414.3 355.5Q396.7 350.7 377.7 344.7"/>
<path d="M406.2 356.4Q401.7 349.8 385.9 341.7"/>
<path d="M410.9 356.1Q402.1 352 386.5 336.5"/>
<path d="M415.4 356.4Q397.5 349.8 379.3 349.1"/>
<path d="M412.2 358.3Q394.8 347.9 382.9 346.7"/>
<path d="M409.5 356.7Q398.9 336.7 367.9 331.9"/>
<path d="M414.2 356.1Q393.3 349.4 374.5 346.5"/>
<path d="M410.9 357.3Q402.9 347.6 390.4 337.7"/>
<path d="M414.4 356Q391.6 349.1 373.7 335.5"/>
<path d="M409.4 355.7Q394.2 349.9 374.3 344"/>
<path d="M410.1 357.1Q397.2 348.9 378 351.2"/>
<path d="M413.9 356Q402 342.1 384.6 337.3"/>
<path d="M412.6 355.3Q401.1 347.2 381.5 340.2"/>
<path d="M411.7 355.7Q399.8 350.6 385.1 345.9"/>
<path d="M411 354.5Q392.5 352.8 377.8 345.9"/>
<path d="M412 356.6Q394.6 351.5 383.7 340.5"/>
<path d="M414.5 356.5Q400.2 348.9 381.7 344.7"/>
<path d="M412.9 354.7Q414.4 333.8 416 315.7"/>
<path d="M413.9 356.3Q429.6 341.9 448.4 331.2"/>
<path d="M415.4 356.1Q429.5 349.6 451.1 338"/>
<path d="M408.2 355.4Q385.6 343 364 327"/>
<path d="M411.6 357.5Q394.8 363.2 372 358.5"/>
<path d="M408.4 357.1Q398.7 357.1 366 347"/>
<path d="M412.7 355.4Q392.3 356 370 350"/>
</g>
<g stroke="#747474" stroke-width="0.5" opacity="0.38" fill="none">
<path d="M381.2 344.5Q398.7 351.4 415.1 355.7"/>
<path d="M384.1 339.9Q397.1 346.7 411.4 355.1"/>
<path d="M376.1 335.8Q393.7 345.2 415.2 354.7"/>
<path d="M387.5 343.8Q398.9 347.9 412 354.8"/>
<path d="M379.9 341.5Q394.8 348.2 410.4 355.1"/>
<path d="M379.1 337.6Q395.4 346 410.2 355.1"/>
<path d="M370.3 341.9Q391.2 343.9 412.8 355"/>
<path d="M375.8 343.5Q395.9 351.1 418.3 358.6"/>
<path d="M385 336.3Q401.7 344 417.3 355.1"/>
<path d="M383.4 340Q399.5 350 415.7 354.6"/>
<path d="M377.5 341.1Q395.4 350.4 414.1 355.4"/>
<path d="M386.3 341.7Q400.1 350.9 413.7 354.6"/>
<path d="M386 335.9Q397.2 344.7 407.8 355.2"/>
<path d="M380.8 341Q399.9 346.5 415.2 356.3"/>
<path d="M383.8 341.3Q394.1 347.2 409.3 357.5"/>
<path d="M392.2 343.9Q404.8 349.1 413.9 357.6"/>
<path d="M383.8 344.3Q397.5 351.3 412.6 356.1"/>
<path d="M379.9 338.2Q395.2 347.3 409.9 354.9"/>
<path d="M380.5 336.8Q399.1 345.9 413.9 356.4"/>
<path d="M380.4 341.6Q398.5 347.3 416.8 355.9"/>
<path d="M380.6 342.9Q395.4 351.4 415.1 357.3"/>
<path d="M378.5 341.8Q391.4 350.8 407 355.9"/>
<path d="M382.5 344Q396.5 354 411.9 358.4"/>
<path d="M380.1 337Q397.6 344.2 415.3 355.5"/>
<path d="M380.7 340.4Q392.5 349.8 411.2 356.5"/>
<path d="M380.4 344.5Q395.6 350.3 412.1 355.2"/>
<path d="M384.3 338.6Q398.9 344.9 411 356.5"/>
<path d="M378 337.9Q398.9 348.5 417.3 357.5"/>
<path d="M377.7 343.5Q397.7 347.1 411.9 355"/>
<path d="M387.3 340.6Q397.7 348.7 410.7 356.2"/>
<path d="M379.5 336.4Q401.1 345.8 419.7 355.4"/>
<path d="M384.6 336.1Q399 344.8 410.4 352"/>
<path d="M377.5 342.6Q396.4 352.5 414.5 359.6"/>
<path d="M384.4 342.4Q399.7 350.8 412.9 355.5"/>
<path d="M377.5 336.5Q394.9 344.8 412.9 358.2"/>
<path d="M385.1 342.3Q404.5 348.2 417.9 356.2"/>
<path d="M385.5 340.4Q399.8 349.8 410 355.7"/>
<path d="M380.6 343.4Q398.4 350.7 415.3 357.1"/>
<path d="M378.8 339.8Q395.7 347.7 413.3 355.1"/>
<path d="M382.8 343.3Q397 348.8 410.4 355.5"/>
<path d="M383.3 338.6Q397.9 348.3 416 355.7"/>
<path d="M388.4 334.1Q402.1 347.4 412.7 356.1"/>
<path d="M381.4 335.2Q398.8 346.4 414.7 357.2"/>
<path d="M378.9 347.5Q395.9 351.3 410 354.2"/>
<path d="M384.6 341.1Q400.1 351 417.3 357.7"/>
<path d="M377.5 334.8Q393.5 345.1 416.1 355.5"/>
<path d="M379.5 341.6Q395.1 349.5 412.9 355.1"/>
<path d="M378.5 340.4Q397.2 349.4 410.5 356.6"/>
<path d="M386.3 341.4Q398.6 349.2 410.6 355.6"/>
<path d="M379.7 341.9Q395.4 347.3 411.2 356.1"/>
<path d="M385.9 340.2Q396.4 346 413.3 356"/>
<path d="M378.6 343.1Q393.5 348.6 411.6 356.7"/>
<path d="M380.2 343.3Q395.2 349.8 408.8 355.8"/>
<path d="M382 342.4Q398.8 347.4 413.7 354.8"/>
<path d="M380.7 344.5Q400.6 350 419.2 357.8"/>
<path d="M379.1 345.1Q398.9 350.6 413.9 354.3"/>
<path d="M387.1 341.3Q397.1 347.9 407.6 355.1"/>
<path d="M387.8 338Q400.2 345.4 412.8 355.9"/>
<path d="M377.3 332.1Q395.9 342.4 413.9 355.8"/>
<path d="M382 337Q397.2 347.6 410.5 356.4"/>
<path d="M381.9 338.8Q398.2 346.5 416.5 357.5"/>
<path d="M383.4 341Q393.9 348.6 410.7 358.8"/>
<path d="M383 343.1Q397.8 351.4 408.3 355.5"/>
<path d="M381.1 340.1Q394.3 345.2 410.8 356.5"/>
<path d="M376.2 340.2Q394.9 350.3 409.7 357.3"/>
<path d="M384.5 343.5Q399.8 351.5 413.7 357.1"/>
<path d="M378.1 338Q395.1 346.3 410.5 357"/>
<path d="M378.2 338.3Q396.4 346 415.2 355.9"/>
<path d="M381.6 344.9Q399 351.3 411.3 355.6"/>
<path d="M377.7 343.4Q389.9 348.5 409.8 356.7"/>
</g>
<line x1="381" y1="340" x2="413" y2="356" stroke="#6aa6d0" stroke-width="0.7" />
<g fill="#7c7c7c">
<circle cx="414.2" cy="355.2" r="1.4"/>
<circle cx="408.5" cy="356.1" r="1.4"/>
<circle cx="411" cy="355.4" r="1.4"/>
<circle cx="408.7" cy="358.4" r="1.4"/>
<circle cx="416.1" cy="356.4" r="1.4"/>
<circle cx="407.1" cy="355.3" r="1.4"/>
<circle cx="410" cy="356.6" r="1.4"/>
<circle cx="416.5" cy="355.3" r="1.4"/>
<circle cx="411.5" cy="355.4" r="1.4"/>
<circle cx="411.5" cy="355.1" r="1.4"/>
<circle cx="412.3" cy="357.5" r="1.4"/>
<circle cx="409.7" cy="355.6" r="1.4"/>
<circle cx="411.4" cy="354.3" r="1.4"/>
<circle cx="417.2" cy="354.3" r="1.4"/>
<circle cx="409.8" cy="354.9" r="1.4"/>
<circle cx="416.2" cy="355.4" r="1.4"/>
<circle cx="409.3" cy="358.5" r="1.4"/>
<circle cx="410.6" cy="355" r="1.4"/>
<circle cx="411" cy="356.3" r="1.4"/>
<circle cx="408.5" cy="355.8" r="1.4"/>
<circle cx="410.3" cy="357" r="1.4"/>
<circle cx="413.7" cy="357.1" r="1.4"/>
<circle cx="410.6" cy="357.1" r="1.4"/>
<circle cx="410.3" cy="357.5" r="1.4"/>
<circle cx="412.4" cy="355.5" r="1.4"/>
<circle cx="415.2" cy="354" r="1.4"/>
<circle cx="407.7" cy="355" r="1.4"/>
<circle cx="410.6" cy="354.4" r="1.4"/>
<circle cx="406.9" cy="353.5" r="1.4"/>
<circle cx="411.4" cy="355" r="1.4"/>
<circle cx="418.5" cy="357" r="1.4"/>
<circle cx="407.1" cy="357.7" r="1.4"/>
<circle cx="411.4" cy="357.4" r="1.4"/>
<circle cx="407.2" cy="357.5" r="1.4"/>
<circle cx="414.8" cy="355.5" r="1.4"/>
<circle cx="408.1" cy="355.5" r="1.4"/>
<circle cx="411.9" cy="359.2" r="1.4"/>
<circle cx="417.2" cy="358" r="1.4"/>
<circle cx="410.3" cy="355.6" r="1.4"/>
<circle cx="412.3" cy="355.7" r="1.4"/>
<circle cx="409.4" cy="355.7" r="1.4"/>
<circle cx="413.9" cy="355.9" r="1.4"/>
<circle cx="411.8" cy="355.7" r="1.4"/>
<circle cx="410.4" cy="355.6" r="1.4"/>
<circle cx="415.3" cy="356.3" r="1.4"/>
</g>
<g fill="#62b360" fill-opacity="0.78">
<circle cx="378.6" cy="336.9" r="1.55"/>
<circle cx="378.5" cy="332.9" r="1.55"/>
<circle cx="382.6" cy="344" r="1.55"/>
<circle cx="378.1" cy="349.5" r="1.55"/>
<circle cx="374.7" cy="344" r="1.55"/>
<circle cx="383.1" cy="338.1" r="1.55"/>
<circle cx="378.4" cy="345.9" r="1.55"/>
<circle cx="380.4" cy="342.5" r="1.55"/>
<circle cx="389.1" cy="342.2" r="1.55"/>
<circle cx="369.2" cy="337" r="1.55"/>
<circle cx="385.4" cy="340.3" r="1.55"/>
<circle cx="373" cy="330.2" r="1.55"/>
<circle cx="382.1" cy="349.2" r="1.55"/>
<circle cx="371.9" cy="329.1" r="1.55"/>
<circle cx="383.2" cy="338" r="1.55"/>
<circle cx="378.1" cy="339.2" r="1.55"/>
<circle cx="374.2" cy="343.4" r="1.55"/>
<circle cx="385.9" cy="343" r="1.55"/>
<circle cx="376.4" cy="346.7" r="1.55"/>
<circle cx="379.3" cy="344.2" r="1.55"/>
<circle cx="374" cy="344.6" r="1.55"/>
<circle cx="384.8" cy="348" r="1.55"/>
<circle cx="380.2" cy="343.4" r="1.55"/>
<circle cx="376.3" cy="345.8" r="1.55"/>
<circle cx="385" cy="346.9" r="1.55"/>
<circle cx="377.5" cy="334.3" r="1.55"/>
<circle cx="379.6" cy="339.9" r="1.55"/>
<circle cx="375.2" cy="344.3" r="1.55"/>
<circle cx="386.1" cy="343.2" r="1.55"/>
<circle cx="387.2" cy="343.2" r="1.55"/>
<circle cx="373.7" cy="337.8" r="1.55"/>
<circle cx="377.7" cy="344.7" r="1.55"/>
<circle cx="385.9" cy="341.7" r="1.55"/>
<circle cx="386.5" cy="336.5" r="1.55"/>
<circle cx="379.3" cy="349.1" r="1.55"/>
<circle cx="382.9" cy="346.7" r="1.55"/>
<circle cx="367.9" cy="331.9" r="1.55"/>
<circle cx="374.5" cy="346.5" r="1.55"/>
<circle cx="390.4" cy="337.7" r="1.55"/>
<circle cx="373.7" cy="335.5" r="1.55"/>
<circle cx="374.3" cy="344" r="1.55"/>
<circle cx="378" cy="351.2" r="1.55"/>
<circle cx="384.6" cy="337.3" r="1.55"/>
<circle cx="381.5" cy="340.2" r="1.55"/>
<circle cx="385.1" cy="345.9" r="1.55"/>
<circle cx="377.8" cy="345.9" r="1.55"/>
<circle cx="383.7" cy="340.5" r="1.55"/>
<circle cx="381.7" cy="344.7" r="1.55"/>
<circle cx="416" cy="315.7" r="1.55"/>
<circle cx="448.4" cy="331.2" r="1.55"/>
<circle cx="451.1" cy="338" r="1.55"/>
<circle cx="364" cy="327" r="1.55"/>
<circle cx="372" cy="358.5" r="1.55"/>
<circle cx="366" cy="347" r="1.55"/>
<circle cx="370" cy="350" r="1.55"/>
</g>
<g fill="none" stroke="#9a9a9a" stroke-width="0.45" stroke-dasharray="1.5 1" opacity="0.7">
<path d="M571.9 354.3Q559.3 346.6 550.8 335"/>
<path d="M569.8 356.6Q556.2 346.4 548.8 327.7"/>
<path d="M567.3 356.3Q551.1 343.1 542.2 335.7"/>
<path d="M570.5 356.3Q560.8 346 541.2 335.4"/>
<path d="M572.1 358Q557.3 344.7 539.9 335.1"/>
<path d="M568.5 357.9Q565 344.3 541 336"/>
<path d="M572.2 355.8Q560.8 346.7 542.7 330"/>
<path d="M573.4 354.9Q560.6 349.5 542.2 336.2"/>
<path d="M570.3 356.4Q558.8 345.3 538.3 336.6"/>
<path d="M572.2 356.3Q559 352.4 549.7 334.7"/>
<path d="M570.6 356.6Q558 348.7 546.5 339.8"/>
<path d="M568.5 355.7Q559.2 352.6 540.4 344"/>
<path d="M571.8 355.9Q563.6 339.3 555.4 329.9"/>
<path d="M569.8 357.6Q562.6 345.1 553.7 331.8"/>
<path d="M572 356.8Q565 338.9 550.6 325.1"/>
<path d="M572.4 353.4Q557.1 345.4 549.2 336.9"/>
<path d="M572.3 355.1Q549.4 344.6 538.2 331.1"/>
<path d="M571.4 356Q558.6 350 539.3 330.6"/>
<path d="M572.1 356.2Q558.7 342.5 545.7 335"/>
<path d="M571.1 356.2Q554.9 349.4 532.7 334.2"/>
<path d="M568.1 356Q559.9 351.6 546.1 336.6"/>
<path d="M572.7 356.1Q558.9 340.9 551.7 325"/>
<path d="M569.6 355.3Q561.1 346.7 545.1 336.2"/>
<path d="M570.2 356.9Q553.6 342.7 547.3 328"/>
<path d="M568.8 356.6Q558.5 342.9 538.1 335"/>
<path d="M572.2 355.6Q554.2 341.2 544.4 325.1"/>
<path d="M571.9 355.6Q565.5 343.7 545.7 336"/>
<path d="M570.7 356.6Q547.6 337.7 547.4 320.3"/>
<path d="M570 355.7Q558.2 341.2 546.3 330.7"/>
<path d="M573.5 356.9Q559.5 347.6 541.9 340.8"/>
<path d="M566.5 356Q558.4 349.6 551.7 337"/>
<path d="M573.3 356Q553.4 349.7 543.5 343.9"/>
<path d="M569.5 355.2Q554.9 349.4 540 335.1"/>
<path d="M568.2 356.2Q560.3 344.9 541.7 330.1"/>
<path d="M570.2 356.1Q561.1 351.7 544.9 348.3"/>
<path d="M572.7 354.4Q559 345.4 545.2 339.1"/>
<path d="M568.9 356Q557.2 355.9 543.9 342.8"/>
<path d="M568.7 356.1Q548.8 340.9 544.8 330.7"/>
<path d="M569.2 356Q555.8 355.9 544.5 344.7"/>
<path d="M572.8 354.4Q558.2 351.6 543.6 343.3"/>
<path d="M569.6 354.4Q566.2 351.2 543.7 348.3"/>
<path d="M571.4 355.4Q556.4 342.7 545.3 340"/>
<path d="M571.2 358.2Q558.2 346.2 542.7 341.1"/>
<path d="M569 357.5Q561.7 342.1 543 327.1"/>
<path d="M573.6 355.4Q551.4 338.2 545.4 328.8"/>
<path d="M575.4 357.8Q566.3 350.2 550.7 340.8"/>
<path d="M572.2 357.4Q559.9 346.2 544.1 340.2"/>
<path d="M570.3 355.6Q552.2 342 532.3 345.3"/>
<path d="M573.3 354.7Q555.8 347 541.1 340.1"/>
<path d="M566.7 355Q565.1 335.2 555.6 326.3"/>
<path d="M569.6 356.6Q563.2 338.9 561.4 327.1"/>
<path d="M571.4 355.3Q577.6 344.7 579.6 332.8"/>
<path d="M570.2 354.9Q581 353.4 598.8 359.4"/>
<path d="M572.1 357.3Q560 345.1 551.6 329.8"/>
<path d="M568.8 358Q549.8 346.4 536 350"/>
<path d="M573.7 355.6Q557.8 353.2 539 353"/>
<path d="M570.2 356.7Q559.7 349.8 535 346"/>
</g>
<g stroke="#747474" stroke-width="0.5" opacity="0.38" fill="none">
<path d="M537.3 336.3Q554.9 346.1 575.9 356.5"/>
<path d="M542.9 334Q557.5 347.1 572 357.5"/>
<path d="M544.5 337.6Q558.8 346.7 569.1 357.2"/>
<path d="M538.6 339.1Q555.7 348 571.3 357.4"/>
<path d="M536.1 339.5Q551.4 344.2 571.2 354.5"/>
<path d="M546.1 335.3Q553.4 344.9 562.7 354.9"/>
<path d="M543.2 335.6Q557.7 348.8 572.9 357.2"/>
<path d="M542.4 333.5Q556.4 342.3 571.4 354.3"/>
<path d="M540.8 337.8Q553.2 346.8 564.9 356.5"/>
<path d="M546.6 338.4Q559.4 347.7 570.1 354.8"/>
<path d="M535.6 334.1Q550.9 343.6 568 357"/>
<path d="M550.5 338.8Q560.8 347.6 571.6 356.3"/>
<path d="M547.5 338.8Q561.5 346.6 569.8 356.1"/>
<path d="M536.4 337.4Q553.2 349.2 568.1 359.2"/>
<path d="M544.8 344.9Q554.1 352.3 568.4 355.9"/>
<path d="M542.6 344.1Q555.4 350.6 570.3 354.7"/>
<path d="M538.8 338Q553.1 349 569.2 355.1"/>
<path d="M537.6 338.3Q553 348.9 573 355.1"/>
<path d="M551.7 336Q559.8 345.2 568 357"/>
<path d="M541 327.3Q553 341.8 568.9 354.5"/>
<path d="M544.3 343.8Q553 351.5 564.2 355.2"/>
<path d="M548.2 337.4Q558.9 345.6 571.2 355.1"/>
<path d="M530.2 344.6Q553.4 352.3 572.8 358.5"/>
<path d="M547.1 330.1Q557.2 341.1 568.4 357"/>
<path d="M542.9 331.7Q555.2 344.1 571 357.9"/>
<path d="M545.7 336.8Q558 342.3 571.4 355"/>
<path d="M542 342.1Q556.1 350.8 568.1 355.8"/>
<path d="M548.8 333.3Q558.6 346.1 569.9 358.1"/>
<path d="M538.6 334.3Q547.7 343.2 563.4 355.3"/>
<path d="M537.9 342.4Q554.6 347.3 572.9 356.5"/>
<path d="M545.3 333.6Q557.7 345.3 570.7 357.1"/>
<path d="M537.8 341.2Q557.5 346.5 572.3 356.8"/>
<path d="M543 339.5Q558.1 345.6 571.8 356.3"/>
<path d="M542.5 341.6Q557.9 346 570.8 355.7"/>
<path d="M544.9 343.1Q558.3 348.3 570.3 355"/>
<path d="M538.7 337.6Q550.9 346.3 566.7 356.8"/>
<path d="M546.5 336.8Q561.3 350.3 571.6 357.6"/>
<path d="M540.1 340.6Q555.4 347.6 566.7 356.9"/>
<path d="M545.2 340.3Q560.1 345.7 570.5 355.2"/>
<path d="M543.7 340.8Q559.8 350 571.5 357.9"/>
<path d="M551.9 339.9Q560.2 348 567.8 355.6"/>
<path d="M534.3 346.2Q551.3 350.7 567 354.6"/>
<path d="M550.7 337.8Q560.1 345.3 571.9 356.9"/>
<path d="M540.5 341Q554.5 350.4 570.2 357.5"/>
<path d="M543 340.3Q556.3 350.1 571 356.2"/>
<path d="M542.7 338.9Q556.4 346.8 572.6 354.9"/>
<path d="M549.4 332.6Q558.2 342.1 568.4 354.8"/>
<path d="M538.8 339.1Q551.6 347.2 568.2 356"/>
<path d="M545.5 328.8Q558.2 342.9 571.1 356.3"/>
<path d="M545 331.7Q559.8 342.1 570.6 356.8"/>
<path d="M539.9 331.4Q553.9 344.2 570.9 354.7"/>
<path d="M554.3 328.6Q565.7 342.2 575.1 354.9"/>
<path d="M549.2 336.1Q560.2 344.6 568.9 355.9"/>
<path d="M545 336.9Q559.1 347.6 571.4 356"/>
<path d="M541.5 335.5Q551.2 346.2 565.5 354.9"/>
<path d="M537.5 334.1Q556.7 344.3 572.3 357.2"/>
<path d="M544.1 341.3Q554.6 347.5 568.8 355.7"/>
<path d="M546.5 337.3Q560.6 347.4 570 355.3"/>
<path d="M536.7 345.7Q552.5 349.9 569.9 355.8"/>
<path d="M546.2 331.1Q561.2 343.9 571 355.6"/>
<path d="M545.1 339.1Q555.1 348.2 572.5 356.1"/>
<path d="M541.3 339.8Q555.2 346 571.8 355.3"/>
<path d="M544.4 336.5Q557.1 345 568.7 355.5"/>
<path d="M542.3 334.5Q553.4 346.5 564.4 356.1"/>
<path d="M549.5 334Q561.1 346.4 572.5 356.3"/>
<path d="M547.3 331.9Q560 342.8 574.7 355.8"/>
<path d="M541.8 332.4Q556.4 345.7 573.7 356.5"/>
<path d="M544.1 337.3Q558.4 347.3 573.4 355.9"/>
<path d="M533.7 332.1Q550.4 344.7 572.2 357.3"/>
<path d="M539.6 335.8Q558.7 348.2 572.5 357.8"/>
</g>
<line x1="542" y1="337" x2="571" y2="356" stroke="#6aa6d0" stroke-width="0.7" />
<g fill="#7c7c7c">
<circle cx="571.2" cy="356.2" r="1.4"/>
<circle cx="562.6" cy="356.5" r="1.4"/>
<circle cx="564.9" cy="354.5" r="1.4"/>
<circle cx="569.4" cy="353.9" r="1.4"/>
<circle cx="575" cy="356.8" r="1.4"/>
<circle cx="570.2" cy="356.6" r="1.4"/>
<circle cx="569.8" cy="356.1" r="1.4"/>
<circle cx="571.4" cy="355.1" r="1.4"/>
<circle cx="569.9" cy="356.2" r="1.4"/>
<circle cx="571.6" cy="354.5" r="1.4"/>
<circle cx="569.8" cy="355.8" r="1.4"/>
<circle cx="571.1" cy="356.7" r="1.4"/>
<circle cx="569.6" cy="356.6" r="1.4"/>
<circle cx="570.5" cy="357.8" r="1.4"/>
<circle cx="570" cy="356.7" r="1.4"/>
<circle cx="565.8" cy="355.7" r="1.4"/>
<circle cx="571.6" cy="357.4" r="1.4"/>
<circle cx="565.6" cy="355.9" r="1.4"/>
<circle cx="568" cy="356.1" r="1.4"/>
<circle cx="567.3" cy="355.4" r="1.4"/>
<circle cx="568.8" cy="356.2" r="1.4"/>
<circle cx="572.4" cy="354.9" r="1.4"/>
<circle cx="565.7" cy="357" r="1.4"/>
<circle cx="570.7" cy="355.7" r="1.4"/>
<circle cx="565" cy="357.4" r="1.4"/>
<circle cx="565.3" cy="357.5" r="1.4"/>
<circle cx="569.8" cy="355.8" r="1.4"/>
<circle cx="568.4" cy="357.1" r="1.4"/>
<circle cx="569" cy="353.7" r="1.4"/>
<circle cx="566.6" cy="353.2" r="1.4"/>
<circle cx="570.3" cy="357.2" r="1.4"/>
<circle cx="572.5" cy="354.2" r="1.4"/>
<circle cx="576.2" cy="358.4" r="1.4"/>
<circle cx="568.6" cy="353.4" r="1.4"/>
<circle cx="566" cy="357.4" r="1.4"/>
<circle cx="576" cy="355.3" r="1.4"/>
<circle cx="562.7" cy="354.7" r="1.4"/>
<circle cx="575.5" cy="356" r="1.4"/>
<circle cx="564.2" cy="353.3" r="1.4"/>
<circle cx="571.1" cy="357" r="1.4"/>
<circle cx="567.3" cy="355.7" r="1.4"/>
<circle cx="569.2" cy="355.5" r="1.4"/>
<circle cx="567.1" cy="355.2" r="1.4"/>
<circle cx="566.9" cy="357.6" r="1.4"/>
<circle cx="570.3" cy="357.3" r="1.4"/>
</g>
<g fill="#ab72c2" fill-opacity="0.78">
<circle cx="550.8" cy="335" r="1.55"/>
<circle cx="548.8" cy="327.7" r="1.55"/>
<circle cx="542.2" cy="335.7" r="1.55"/>
<circle cx="541.2" cy="335.4" r="1.55"/>
<circle cx="539.9" cy="335.1" r="1.55"/>
<circle cx="541" cy="336" r="1.55"/>
<circle cx="542.7" cy="330" r="1.55"/>
<circle cx="542.2" cy="336.2" r="1.55"/>
<circle cx="538.3" cy="336.6" r="1.55"/>
<circle cx="549.7" cy="334.7" r="1.55"/>
<circle cx="546.5" cy="339.8" r="1.55"/>
<circle cx="540.4" cy="344" r="1.55"/>
<circle cx="555.4" cy="329.9" r="1.55"/>
<circle cx="553.7" cy="331.8" r="1.55"/>
<circle cx="550.6" cy="325.1" r="1.55"/>
<circle cx="549.2" cy="336.9" r="1.55"/>
<circle cx="538.2" cy="331.1" r="1.55"/>
<circle cx="539.3" cy="330.6" r="1.55"/>
<circle cx="545.7" cy="335" r="1.55"/>
<circle cx="532.7" cy="334.2" r="1.55"/>
<circle cx="546.1" cy="336.6" r="1.55"/>
<circle cx="551.7" cy="325" r="1.55"/>
<circle cx="545.1" cy="336.2" r="1.55"/>
<circle cx="547.3" cy="328" r="1.55"/>
<circle cx="538.1" cy="335" r="1.55"/>
<circle cx="544.4" cy="325.1" r="1.55"/>
<circle cx="545.7" cy="336" r="1.55"/>
<circle cx="547.4" cy="320.3" r="1.55"/>
<circle cx="546.3" cy="330.7" r="1.55"/>
<circle cx="541.9" cy="340.8" r="1.55"/>
<circle cx="551.7" cy="337" r="1.55"/>
<circle cx="543.5" cy="343.9" r="1.55"/>
<circle cx="540" cy="335.1" r="1.55"/>
<circle cx="541.7" cy="330.1" r="1.55"/>
<circle cx="544.9" cy="348.3" r="1.55"/>
<circle cx="545.2" cy="339.1" r="1.55"/>
<circle cx="543.9" cy="342.8" r="1.55"/>
<circle cx="544.8" cy="330.7" r="1.55"/>
<circle cx="544.5" cy="344.7" r="1.55"/>
<circle cx="543.6" cy="343.3" r="1.55"/>
<circle cx="543.7" cy="348.3" r="1.55"/>
<circle cx="545.3" cy="340" r="1.55"/>
<circle cx="542.7" cy="341.1" r="1.55"/>
<circle cx="543" cy="327.1" r="1.55"/>
<circle cx="545.4" cy="328.8" r="1.55"/>
<circle cx="550.7" cy="340.8" r="1.55"/>
<circle cx="544.1" cy="340.2" r="1.55"/>
<circle cx="532.3" cy="345.3" r="1.55"/>
<circle cx="541.1" cy="340.1" r="1.55"/>
<circle cx="555.6" cy="326.3" r="1.55"/>
<circle cx="561.4" cy="327.1" r="1.55"/>
<circle cx="579.6" cy="332.8" r="1.55"/>
<circle cx="598.8" cy="359.4" r="1.55"/>
<circle cx="551.6" cy="329.8" r="1.55"/>
<circle cx="536" cy="350" r="1.55"/>
<circle cx="539" cy="353" r="1.55"/>
<circle cx="535" cy="346" r="1.55"/>
</g>
<rect x="521" y="367" width="3" height="3" fill="none" stroke="#cfcfcf" stroke-width="0.6"/>
<line x1="62.1" y1="325.3" x2="62.1" y2="339" stroke="#f01818" stroke-width="1.8" />
<line x1="221" y1="325" x2="221" y2="336" stroke="#f01818" stroke-width="1.8" />
<line x1="380.1" y1="325.3" x2="380.1" y2="339" stroke="#f01818" stroke-width="1.8" />
<line x1="539.1" y1="325.3" x2="539.1" y2="335.5" stroke="#f01818" stroke-width="1.8" />
<text x="34.8" y="334.4" font-size="7.3" text-anchor="start" font-weight="normal" font-family="DejaVu Sans, sans-serif" fill="#000" >home</text>
<text x="94" y="370" font-size="7.3" text-anchor="middle" font-weight="normal" font-family="DejaVu Sans, sans-serif" fill="#000" >start</text>
<text x="193.9" y="334.4" font-size="7.3" text-anchor="start" font-weight="normal" font-family="DejaVu Sans, sans-serif" fill="#000" >home</text>
<text x="253.1" y="370" font-size="7.3" text-anchor="middle" font-weight="normal" font-family="DejaVu Sans, sans-serif" fill="#000" >start</text>
<text x="353" y="334.4" font-size="7.3" text-anchor="start" font-weight="normal" font-family="DejaVu Sans, sans-serif" fill="#000" >home</text>
<text x="412.2" y="370" font-size="7.3" text-anchor="middle" font-weight="normal" font-family="DejaVu Sans, sans-serif" fill="#000" >start</text>
<text x="512.1" y="334.4" font-size="7.3" text-anchor="start" font-weight="normal" font-family="DejaVu Sans, sans-serif" fill="#000" >home</text>
<text x="571.3" y="370" font-size="7.3" text-anchor="middle" font-weight="normal" font-family="DejaVu Sans, sans-serif" fill="#000" >start</text>
<text x="15.2" y="435.6" font-size="16.5" text-anchor="start" font-weight="bold" font-family="Liberation Sans, Arial, sans-serif" fill="#000" >d</text>
<text x="155.1" y="427" font-size="14.3" text-anchor="middle" font-weight="bold" font-family="Liberation Sans, Arial, sans-serif" fill="#000" >Response</text>
<text x="100.2" y="445.7" font-size="11.3" text-anchor="middle" font-weight="bold" font-family="Liberation Sans, Arial, sans-serif" fill="#000" >Variability</text>
<text x="210.3" y="445.7" font-size="11.3" text-anchor="middle" font-weight="bold" font-family="Liberation Sans, Arial, sans-serif" fill="#000" >Proximity</text>
<rect x="68.5" y="467.4" width="14" height="50.2" fill="#cb3335"/>
<rect x="82.5" y="480.2" width="14.3" height="37.4" fill="#477ca8"/>
<rect x="96.8" y="487.2" width="14.4" height="30.4" fill="#59a257"/>
<rect x="111.2" y="483.3" width="14.4" height="34.3" fill="#905998"/>
<rect x="125.6" y="487.7" width="14.3" height="29.9" fill="#808080"/>
<line x1="59.2" y1="459.6" x2="59.2" y2="518" stroke="#000" stroke-width="0.95" />
<line x1="58.8" y1="517.6" x2="148.6" y2="517.6" stroke="#000" stroke-width="0.95" />
<line x1="55.6" y1="460" x2="59.2" y2="460" stroke="#000" stroke-width="0.95" />
<text x="53.3" y="463.3" font-size="9.1" text-anchor="end" font-weight="normal" font-family="DejaVu Sans, sans-serif" fill="#000" >1.0</text>
<line x1="55.6" y1="488.8" x2="59.2" y2="488.8" stroke="#000" stroke-width="0.95" />
<text x="53.3" y="492.1" font-size="9.1" text-anchor="end" font-weight="normal" font-family="DejaVu Sans, sans-serif" fill="#000" >0.5</text>
<line x1="55.6" y1="517.6" x2="59.2" y2="517.6" stroke="#000" stroke-width="0.95" />
<text x="53.3" y="520.9" font-size="9.1" text-anchor="end" font-weight="normal" font-family="DejaVu Sans, sans-serif" fill="#000" >0.0</text>
<line x1="104.2" y1="517.6" x2="104.2" y2="521.1" stroke="#000" stroke-width="0.95" />
<text x="104.2" y="531.3" font-size="9.1" text-anchor="middle" font-weight="normal" font-family="DejaVu Sans, sans-serif" fill="#000" >Condition</text>
<text x="33.3" y="489" font-size="9.1" text-anchor="middle" font-weight="normal" font-family="DejaVu Sans, sans-serif" fill="#000" transform="rotate(-90 33.3 489)">sd (m)</text>
<line x1="179.1" y1="455.2" x2="179.1" y2="518" stroke="#000" stroke-width="0.95" />
<line x1="178.7" y1="517.6" x2="243" y2="517.6" stroke="#000" stroke-width="0.95" />
<line x1="175.5" y1="455.6" x2="179.1" y2="455.6" stroke="#000" stroke-width="0.95" />
<text x="173.4" y="458.9" font-size="9.1" text-anchor="end" font-weight="normal" font-family="DejaVu Sans, sans-serif" fill="#000" >1</text>
<line x1="175.5" y1="486.6" x2="179.1" y2="486.6" stroke="#000" stroke-width="0.95" />
<text x="173.4" y="489.9" font-size="9.1" text-anchor="end" font-weight="normal" font-family="DejaVu Sans, sans-serif" fill="#000" >0</text>
<line x1="175.5" y1="517.6" x2="179.1" y2="517.6" stroke="#000" stroke-width="0.95" />
<text x="173.4" y="520.9" font-size="9.1" text-anchor="end" font-weight="normal" font-family="DejaVu Sans, sans-serif" fill="#000" >−1</text>
<line x1="179.1" y1="517.6" x2="179.1" y2="521.1" stroke="#000" stroke-width="0.95" />
<text x="179.1" y="532" font-size="9.1" text-anchor="middle" font-weight="normal" font-family="DejaVu Sans, sans-serif" fill="#000" >−1</text>
<line x1="210.8" y1="517.6" x2="210.8" y2="521.1" stroke="#000" stroke-width="0.95" />
<text x="210.8" y="532" font-size="9.1" text-anchor="middle" font-weight="normal" font-family="DejaVu Sans, sans-serif" fill="#000" >0</text>
<line x1="242.7" y1="517.6" x2="242.7" y2="521.1" stroke="#000" stroke-width="0.95" />
<text x="242.7" y="532" font-size="9.1" text-anchor="middle" font-weight="normal" font-family="DejaVu Sans, sans-serif" fill="#000" >1</text>
<text x="210.8" y="544.2" font-size="9.1" text-anchor="middle" font-weight="normal" font-family="DejaVu Sans, sans-serif" fill="#000" >x (m)</text>
<line x1="200.5" y1="486.7" x2="220.6" y2="486.7" stroke="#e0303a" stroke-width="1.4" />
<line x1="210.8" y1="476" x2="210.8" y2="496.5" stroke="#e0303a" stroke-width="1.4" />
<line x1="218.3" y1="488.5" x2="238.8" y2="488.5" stroke="#4a7fc0" stroke-width="1.4" />
<line x1="228.5" y1="478.3" x2="228.5" y2="498.8" stroke="#4a7fc0" stroke-width="1.4" />
<g fill="#bf8fd0" fill-opacity="0.45">
<circle cx="186.4" cy="491.5" r="2.8"/>
<circle cx="206.5" cy="482.8" r="2.8"/>
<circle cx="213.7" cy="474.9" r="2.8"/>
<circle cx="218.3" cy="479.4" r="2.8"/>
<circle cx="219.4" cy="482.4" r="2.8"/>
<circle cx="210.3" cy="493.8" r="2.8"/>
<circle cx="213.7" cy="497.6" r="2.8"/>
<circle cx="217.8" cy="494.2" r="2.8"/>
<circle cx="222.8" cy="485.1" r="2.8"/>
<circle cx="225.1" cy="488.5" r="2.8"/>
<circle cx="227.4" cy="484" r="2.8"/>
<circle cx="230.8" cy="486.3" r="2.8"/>
<circle cx="231.9" cy="497.6" r="2.8"/>
<circle cx="236" cy="499.5" r="2.8"/>
<circle cx="237.6" cy="485.6" r="2.8"/>
<circle cx="230.8" cy="482.8" r="2.8"/>
<circle cx="224" cy="490.8" r="2.8"/>
<circle cx="220.6" cy="487.4" r="2.8"/>
<circle cx="228.5" cy="481.7" r="2.8"/>
</g>
<text x="204" y="465" font-size="7.3" text-anchor="middle" font-weight="normal" font-family="DejaVu Sans, sans-serif" fill="#000" >self-motion</text>
<text x="200" y="472.8" font-size="7.3" text-anchor="middle" font-weight="normal" font-family="DejaVu Sans, sans-serif" fill="#000" >defined</text>
<text x="246" y="473.3" font-size="7.3" text-anchor="middle" font-weight="normal" font-family="DejaVu Sans, sans-serif" fill="#000" >landmark</text>
<text x="245" y="480.8" font-size="7.3" text-anchor="middle" font-weight="normal" font-family="DejaVu Sans, sans-serif" fill="#000" >defined</text>
<text x="128.9" y="548.3" font-size="11.45" text-anchor="middle" font-weight="bold" font-family="Liberation Sans, Arial, sans-serif" fill="#000" >Cue conflict behavior</text>
<polyline points="62.6,572.8 63.9,573.9 65.2,575 66.4,576.1 67.7,577.1 69,578.2 70.3,579.3 71.5,580.3 72.8,581.4 74.1,582.4 75.4,583.4 76.7,584.5 77.9,585.5 79.2,586.5 80.5,587.5 81.8,588.5 83,589.4 84.3,590.4 85.6,591.4 86.9,592.3 88.2,593.2 89.4,594.2 90.7,595.1 92,596 93.3,596.9 94.5,597.7 95.8,598.6 97.1,599.4 98.4,600.3 99.7,601.1 100.9,601.9 102.2,602.7 103.5,603.5 104.8,604.2 106.1,605 107.3,605.7 108.6,606.4 109.9,607.1 111.2,607.7 112.4,608.4 113.7,609 115,609.6 116.3,610.2 117.6,610.8 118.8,611.3 120.1,611.8 121.4,612.3 122.7,612.8 123.9,613.2 125.2,613.7 126.5,614.1 127.8,614.4 129.1,614.8 130.3,615.1 131.6,615.4 132.9,615.7 134.2,615.9 135.4,616.2 136.7,616.3 138,616.5 139.3,616.6 140.6,616.7 141.8,616.8 143.1,616.9 144.4,616.9 145.7,616.9 146.9,616.8 148.2,616.8 149.5,616.7 150.8,616.6 152.1,616.4 153.3,616.2 154.6,616 155.9,615.8 157.2,615.5 158.4,615.2 159.7,614.9 161,614.6 162.3,614.2 163.6,613.8 164.8,613.4 166.1,613 167.4,612.5 168.7,612 170,611.5 171.2,611 172.5,610.4 173.8,609.8 175.1,609.2 176.3,608.6 177.6,608 178.9,607.3 180.2,606.6 181.5,605.9 182.7,605.2 184,604.5 185.3,603.7 186.6,603 187.8,602.2 189.1,601.4 190.4,600.6" fill="none" stroke="#9fcbe6" stroke-width="1.5"/>
<line x1="144.6" y1="556.4" x2="144.6" y2="619.5" stroke="#9fcbe6" stroke-width="1.5" stroke-dasharray="4.2 2.3"/>
<line x1="62.6" y1="556" x2="62.6" y2="619.9" stroke="#000" stroke-width="0.95" />
<line x1="62.2" y1="619.5" x2="190.8" y2="619.5" stroke="#000" stroke-width="0.95" />
<line x1="59.1" y1="556.4" x2="62.6" y2="556.4" stroke="#000" stroke-width="0.95" />
<text x="57.2" y="559.7" font-size="9.1" text-anchor="end" font-weight="normal" font-family="DejaVu Sans, sans-serif" fill="#000" >1.00</text>
<line x1="59.1" y1="588" x2="62.6" y2="588" stroke="#000" stroke-width="0.95" />
<text x="57.2" y="591.2" font-size="9.1" text-anchor="end" font-weight="normal" font-family="DejaVu Sans, sans-serif" fill="#000" >0.75</text>
<line x1="59.1" y1="619.5" x2="62.6" y2="619.5" stroke="#000" stroke-width="0.95" />
<text x="57.2" y="622.8" font-size="9.1" text-anchor="end" font-weight="normal" font-family="DejaVu Sans, sans-serif" fill="#000" >0.50</text>
<line x1="62.6" y1="619.5" x2="62.6" y2="623" stroke="#000" stroke-width="0.95" />
<text x="62.6" y="632.2" font-size="9.1" text-anchor="middle" font-weight="normal" font-family="DejaVu Sans, sans-serif" fill="#000" >0.00</text>
<line x1="126.5" y1="619.5" x2="126.5" y2="623" stroke="#000" stroke-width="0.95" />
<text x="126.5" y="632.2" font-size="9.1" text-anchor="middle" font-weight="normal" font-family="DejaVu Sans, sans-serif" fill="#000" >0.50</text>
<line x1="158.4" y1="619.5" x2="158.4" y2="623" stroke="#000" stroke-width="0.95" />
<text x="158.4" y="632.2" font-size="9.1" text-anchor="middle" font-weight="normal" font-family="DejaVu Sans, sans-serif" fill="#000" >0.75</text>
<line x1="190.4" y1="619.5" x2="190.4" y2="623" stroke="#000" stroke-width="0.95" />
<text x="190.4" y="632.2" font-size="9.1" text-anchor="middle" font-weight="normal" font-family="DejaVu Sans, sans-serif" fill="#000" >1.00</text>
<line x1="94.5" y1="619.5" x2="94.5" y2="623" stroke="#000" stroke-width="0.95" />
<text x="84.3" y="632.2" font-size="9.1" text-anchor="start" font-weight="normal" font-family="DejaVu Sans, sans-serif" fill="#000" >0.</text>
<text x="98.9" y="632.2" font-size="9.1" text-anchor="start" font-weight="normal" font-family="DejaVu Sans, sans-serif" fill="#000" >5</text>
<text x="126.8" y="645" font-size="9.1" text-anchor="middle" font-weight="normal" font-family="DejaVu Sans, sans-serif" fill="#000" >response proximity</text>
<text x="31" y="588" font-size="9.1" text-anchor="middle" font-weight="normal" font-family="DejaVu Sans, sans-serif" fill="#000" transform="rotate(-90 31 588)">response variability</text>
<line x1="66.2" y1="573" x2="72.2" y2="573" stroke="#e0303a" stroke-width="1.4" />
<line x1="69.2" y1="570" x2="69.2" y2="576" stroke="#e0303a" stroke-width="1.4" />
<line x1="181" y1="599.8" x2="187" y2="599.8" stroke="#4a7fc0" stroke-width="1.4" />
<line x1="184" y1="596.8" x2="184" y2="602.8" stroke="#4a7fc0" stroke-width="1.4" />
<polygon points="117.3,602.6 121.9,607.2 117.3,611.8 112.7,607.2" fill="#000"/>
<text x="107.6" y="572.6" font-size="7.4" text-anchor="middle" font-weight="normal" font-family="DejaVu Sans, sans-serif" fill="#000" >self-motion defined</text>
<text x="190.9" y="594" font-size="7.4" text-anchor="middle" font-weight="normal" font-family="DejaVu Sans, sans-serif" fill="#000" >landmark defined</text>
<line x1="210.2" y1="606.5" x2="229" y2="606.5" stroke="#9fcbe6" stroke-width="1.5" stroke-dasharray="4.2 2.3"/>
<text x="236" y="609.7" font-size="9.1" text-anchor="start" font-weight="normal" font-family="DejaVu Sans, sans-serif" fill="#000" >optimal</text>
<line x1="210.2" y1="619.8" x2="229" y2="619.8" stroke="#000" stroke-width="1.4" />
<polygon points="219.6,615.2 224.2,619.8 219.6,624.4 215,619.8" fill="#000"/>
<text x="236" y="623" font-size="9.1" text-anchor="start" font-weight="normal" font-family="DejaVu Sans, sans-serif" fill="#000" >empirical</text>
<text x="212.8" y="660.8" font-size="11.6" text-anchor="middle" font-weight="normal" font-family="Liberation Sans, Arial, sans-serif" fill="#000" >experimental conditions</text>
<rect x="13" y="668.8" width="9" height="8.8" fill="#e41a1c"/>
<text x="25" y="677.2" font-size="11.6" text-anchor="start" font-weight="normal" font-family="Liberation Sans, Arial, sans-serif" fill="#000" >self-motion</text>
<rect x="93.1" y="668.8" width="9" height="8.8" fill="#377eb8"/>
<text x="105.2" y="677.2" font-size="11.6" text-anchor="start" font-weight="normal" font-family="Liberation Sans, Arial, sans-serif" fill="#000" >landmark</text>
<rect x="163.2" y="668.8" width="9" height="8.8" fill="#4daf4a"/>
<text x="175.9" y="677.2" font-size="11.6" text-anchor="start" font-weight="normal" font-family="Liberation Sans, Arial, sans-serif" fill="#000" >combined</text>
<rect x="234.7" y="668.8" width="9" height="8.8" fill="#984ea3"/>
<text x="247.4" y="677.2" font-size="11.6" text-anchor="start" font-weight="normal" font-family="Liberation Sans, Arial, sans-serif" fill="#000" >conflict</text>
<rect x="294.9" y="668.8" width="9" height="8.8" fill="#808080"/>
<text x="307.1" y="677.2" font-size="11.6" text-anchor="start" font-weight="normal" font-family="Liberation Sans, Arial, sans-serif" fill="#000" >cue-integration (predicted)</text>
<text x="304.4" y="433.8" font-size="16.5" text-anchor="start" font-weight="bold" font-family="Liberation Sans, Arial, sans-serif" fill="#000" >e</text>
<text x="498.2" y="425.6" font-size="13" text-anchor="middle" font-weight="bold" font-family="Liberation Sans, Arial, sans-serif" fill="#000" >Walking trajectory data</text>
<path d="M316.7 497.4H461.7M316.1 510.3H462.1M315.6 522.5H462.5M315 536H462.9M314.5 548.9H463.3M313.9 562H463.7M313.3 575.5H464.1M312.8 589H464.5M312.2 602.2H464.9M316.7 497.4L312.2 602.2M334.8 497.4L331.3 602.2M352.9 497.4L350.4 602.2M371.1 497.4L369.5 602.2M389.2 497.4L388.5 602.2M407.3 497.4L407.6 602.2M425.4 497.4L426.7 602.2M443.6 497.4L445.8 602.2M461.7 497.4L464.9 602.2" stroke="#d4d4d4" stroke-width="0.9" fill="none"/>
<text x="387.6" y="619.8" font-size="11.3" text-anchor="middle" font-weight="normal" font-family="Liberation Sans, Arial, sans-serif" fill="#000" >Zhao &amp; Warren 2015</text>
<line x1="316.1" y1="486.5" x2="318.3" y2="524.1" stroke="#000" stroke-width="2" />
<polygon points="316.1,480.3 317.6,484.5 322,484.6 318.5,487.3 319.7,491.5 316.1,489 312.5,491.5 313.7,487.3 310.2,484.6 314.6,484.5" fill="#8b0000"/>
<line x1="388.4" y1="466.3" x2="388.4" y2="504.2" stroke="#000" stroke-width="2" />
<polygon points="388.4,460.1 389.9,464.3 394.3,464.4 390.8,467.1 392,471.3 388.4,468.8 384.8,471.3 386,467.1 382.5,464.4 386.9,464.3" fill="#8b0000"/>
<line x1="459.8" y1="486.5" x2="458.1" y2="524.1" stroke="#000" stroke-width="2" />
<polygon points="459.8,480.3 461.3,484.5 465.7,484.6 462.2,487.3 463.4,491.5 459.8,489 456.2,491.5 457.4,487.3 453.9,484.6 458.3,484.5" fill="#8b0000"/>
<g fill="none" stroke="#a8a8a8" stroke-width="0.45" opacity="0.42">
<path d="M389.7 586.5L420.4 535.7Q390.5 547.5 356.2 559.3L389.5 573.4Q398.8 553.5 413.8 533.6"/>
<path d="M387.4 590.7L420 533.2Q386.5 547.4 356.5 559L383.5 575.1Q401 550.7 432.2 523"/>
<path d="M387.8 587.4L420 532.7Q389.1 540.1 358.9 553.8L389.5 577.9Q399.9 558.9 421.7 537.4"/>
<path d="M386.7 586.4L421.7 534.1Q390.9 547.5 360.8 561.7L390.4 571.4Q393.3 553 405.6 531.7"/>
<path d="M387.9 588.5L421.1 534.4Q390.5 545.4 355.2 560.7L383.8 572Q394.3 549.7 418.3 538.7"/>
<path d="M386.2 587.5L417.6 528.9Q383.6 547.1 355.6 565.7L386 572.7Q404.3 559.9 429.7 536.3"/>
<path d="M388.4 588.5L417.6 531.9Q387.9 546.6 363.2 560.7L387.5 577.3Q384.9 561.8 406.2 535.3"/>
<path d="M387 588.4L421.4 533.8Q386.6 548.4 355.8 561.7L387.5 573.5Q396.8 553.5 425.6 541.7"/>
<path d="M386.5 589.5L420.7 534.1Q391 549.1 360 558.9L389.4 575.7Q414 554.4 430.9 528.4"/>
<path d="M387.6 588.1L422.7 533.1Q391.9 549.7 360.8 564.8L388.9 575.1Q406.3 548.1 415.4 529.4"/>
<path d="M387 587.8L418.8 538Q392.2 548.9 358.3 564.9L394.4 577.1Q406.3 560.7 431.1 532.7"/>
<path d="M389 588.5L422.6 535.7Q391.8 549.7 363.7 559.3L388.3 577.7Q400.1 552 418.6 539.7"/>
<path d="M387.4 587.1L419.4 534Q392.4 547.5 358.8 562L389.9 572.2Q397.8 553.2 415.9 530.5"/>
<path d="M389 589.2L417.8 532.2Q385.3 547.4 357.6 557.2L394 570.3Q395.8 558.7 411 541.4"/>
<path d="M387.3 588.9L423.2 530.9Q390.4 542.5 354 556.2L385.1 577Q407 563.7 420.5 541.9"/>
<path d="M387.5 588.6L422.8 536Q391.1 550.1 358.1 560.3L388.2 578.7Q399.2 568 423.1 550"/>
<path d="M387.2 588.6L420.5 533.3Q389.5 545.5 352.9 557.1L387.4 576.1Q404 551.7 422.9 537.7"/>
<path d="M387.2 587.9L423.2 534.3Q389.9 552.3 351.3 567L384 578.9Q409.2 559.1 427.7 529.1"/>
<path d="M388.3 588.5L419.4 534.4Q389.8 546.3 361.6 560.8L394.3 571.1Q396.2 549.6 421.2 525.7"/>
<path d="M386.9 588.1L416.7 533.5Q388.1 545 355.3 557.6L389.7 570.4Q406.8 554.8 424.3 537.9"/>
<path d="M386.9 588.6L418.7 533.2Q389.9 546.7 357.6 558.5L391.4 571.1Q416.7 558.1 430.7 535.9"/>
<path d="M388.1 587.2L419.3 532Q383.8 545.7 354.7 560.8L386.1 575.1Q401.6 556 418.9 532.8"/>
<path d="M390.9 588.3L421.8 532.1Q392.3 549.8 360.5 565.4L390.2 574.5Q405.8 547.6 421.2 522.9"/>
<path d="M388.2 590L423 532.6Q388.8 548.2 359.3 562.9L388.5 578.2Q395.2 552.7 418 523.9"/>
<path d="M386.4 588.6L420.1 532.1Q392.1 544.5 355.2 560.4L391.1 575.4Q406.8 558.3 419.3 537.2"/>
<path d="M388.8 588.4L419.1 535.1Q390.1 553.4 360 563.8L389.9 572.7Q411.5 556.4 422.3 538.8"/>
<path d="M388 588L421.4 535.4Q391.6 540.7 357.7 556.5L387.2 577.2Q399.2 556.6 415.1 542"/>
<path d="M385.9 587.1L422 533.3Q392.2 552.2 359.3 560.9L388.8 573.6Q404.3 553.1 417.8 543"/>
<path d="M388.7 587.6L422.5 534.3Q388.3 550.6 356 563.8L392.1 573.6Q404.2 559.9 421.9 533.4"/>
<path d="M388.2 588.4L417.9 535.1Q385.5 549.9 353.3 563.1L388.2 575.1Q394.9 552.9 417.3 530.2"/>
<path d="M387.7 588.9L421.1 534.1Q389.4 544.5 356.3 561.1L390.4 573.1Q400.2 556.2 411.4 538.8"/>
<path d="M387 588.3L420.6 531.4Q385.1 542.9 358.7 555.9L392.1 572.3Q394.9 549.5 416.5 528.9"/>
<path d="M388.1 588.1L420.6 531Q388.3 547.5 350.8 557.5L391.5 575.5Q399.5 566.1 406.8 547.8"/>
<path d="M386.3 588.4L418.8 537.7Q389 548.5 359.5 561.1L387.7 569.8Q408.5 553.1 421.7 530.3"/>
<path d="M389 587.9L423.4 534.3Q391.5 549.6 356.1 562.1L393.6 571Q406.1 562 426.8 541.1"/>
<path d="M386.9 588.8L417.5 534.9Q389.2 545.3 364.5 558.6L393 572.2Q397.3 558 421.4 541"/>
<path d="M388.8 588.3L421.7 533.9Q390 550.8 358.4 565.4L388.8 574.1Q404.4 549.2 421.1 541"/>
<path d="M390.5 587.9L420 531.6Q392.5 549.2 356.9 556.2L385.9 574.6Q391.2 559.5 409 534.2"/>
<path d="M388.1 588.9L426.5 532.6Q395.1 544.9 363 558.6L391.5 571.1Q400.5 545.3 417.7 534.7"/>
<path d="M389.4 588.8L415.3 534.1Q391.3 545.1 360.8 560.8L386.3 571.5Q397.9 549.4 417.9 529.5"/>
<path d="M388.3 587.5L421.4 535.9Q384.9 548.8 355.1 557.8L388.5 574.8Q399.7 559.7 415.8 538.9"/>
<path d="M389.2 587.7L425.6 534.3Q386.8 541.2 352.6 558.1L386.2 573.2Q398.7 554.5 419 538.1"/>
<path d="M387.2 587.3L422.9 529.1Q391.8 541.3 361.1 553.1L387.8 574.8Q401.4 547.8 412 529.2"/>
<path d="M388.6 587.3L423.9 533.6Q387.6 551.6 360.6 557.2L391.6 574.5Q410.8 553.3 427 531.6"/>
<path d="M387.3 588.7L420.2 533Q389 551.2 355.8 563.6L391.2 577Q389.2 568.6 407.9 541.7"/>
<path d="M387.9 588.4L418.9 537.8Q389.1 547.1 356 564.1L386 574.4Q396.5 557.5 417.7 535.2"/>
<path d="M387.5 587.3L423.3 531.4Q388.6 544 358.7 561.5L388.2 570.1Q411.8 556.9 434.4 535"/>
<path d="M389.6 589.9L418.6 533.7Q388 550.5 360.4 560.7L392.3 576.2Q401.1 563.6 420.3 540.7"/>
<path d="M390.4 586.9L424.9 530.9Q390.3 545.6 356.9 566.2L391.6 576.4Q407.2 556.2 423.9 537.3"/>
<path d="M389.7 588.3L425.4 535.4Q391.5 545.6 358.7 558L387.6 574.9Q389.5 552.9 419.9 533.9"/>
</g>
<g fill="none" stroke="#9a9a9a" stroke-width="0.4" opacity="0.4">
<path d="M387.2 571.6Q390.5 552 418.1 538.3"/>
<path d="M385.1 574.4Q389.1 565.5 419.1 539.9"/>
<path d="M386.6 575.7Q403.7 537.8 428.3 533.9"/>
<path d="M387.1 574.3Q390.5 549 421.1 534.6"/>
<path d="M391.5 574.2Q403.5 556.2 420.8 535.9"/>
<path d="M384.1 574.8Q389.3 567.4 415.6 539.2"/>
<path d="M386.5 574.5Q403.6 553.2 424.6 534.6"/>
<path d="M387.4 573.3Q398 546.5 418.4 528.6"/>
<path d="M394.1 579Q403.5 554.2 426.5 530.4"/>
<path d="M382.3 577.9Q416.5 559.6 422.9 534.8"/>
<path d="M387.3 575.4Q387.9 558.8 419.3 535.4"/>
<path d="M387.3 573.9Q384.2 557.7 419.6 533.6"/>
<path d="M387.7 578.4Q400.4 557.1 420.7 536.8"/>
<path d="M383.6 573.9Q395.1 546.3 419 526.7"/>
<path d="M389.7 576.9Q412.5 562.1 419.9 537.5"/>
<path d="M387.2 575Q413.3 546.8 425.7 538.6"/>
<path d="M379.4 578.4Q402.9 556.7 422.9 538"/>
<path d="M390.4 574.7Q395.8 551.4 425.3 536.5"/>
<path d="M392.6 576.6Q392.4 551 421.6 535"/>
<path d="M390.7 571.1Q408.9 558.9 422.3 535.7"/>
<path d="M396.2 575.4Q383.5 553.1 418.3 528.8"/>
<path d="M392.1 571.5Q401 553.3 421.3 531.8"/>
<path d="M388.7 572.4Q385.5 558.1 423.1 533.6"/>
<path d="M394.9 574Q404.6 559.9 425.6 529.2"/>
<path d="M393.8 575.9Q412 560.5 424 532.8"/>
<path d="M392.4 575.6Q410 546.5 423.3 535.3"/>
<path d="M391 572.9Q404.2 546 419.7 534.2"/>
<path d="M386.4 575.3Q401.7 556.4 419.6 534.1"/>
<path d="M386.4 575.2Q408.1 547 422.5 530.2"/>
<path d="M390 576.1Q394.6 546.5 422.7 530.4"/>
<path d="M390.8 575.1Q410.4 552.9 415.3 536.2"/>
<path d="M388.2 575.3Q404.5 552.3 417.7 532.7"/>
<path d="M388.5 575Q406.8 552.4 426 534.8"/>
<path d="M393.5 575Q415.8 551.2 420.7 537.9"/>
<path d="M387.3 577.4Q398.4 570.1 419.4 538.7"/>
<path d="M384.6 570.9Q390.5 553.1 416.4 539.9"/>
<path d="M386.2 573.3Q394.6 551 421.2 534.4"/>
<path d="M393.9 576.7Q403.6 562.9 423.8 537.7"/>
<path d="M395.1 573.2Q389.3 541.3 424.9 526.6"/>
<path d="M384.5 572.9Q391.8 552.7 419.3 536.4"/>
<path d="M383.3 571.6Q406.2 552.6 420.2 531.7"/>
<path d="M381.2 576.3Q386.2 549.8 417.1 532.7"/>
<path d="M386.1 572.4Q405.2 557.3 418.5 533.1"/>
<path d="M395.6 571.5Q393.8 553.8 419.5 537.6"/>
<path d="M391.4 577.9Q401.8 560.4 422.5 534.9"/>
<path d="M420.6 536.8Q425.6 548.8 429.5 545.4"/>
<path d="M420.6 536.8Q425.6 548.8 436.1 547.2"/>
<path d="M420.6 536.8Q425.6 548.8 438.5 555.8"/>
<path d="M420.6 536.8Q425.6 548.8 438.1 553.4"/>
<path d="M420.6 536.8Q425.6 548.8 437.8 549.7"/>
<path d="M420.6 536.8Q425.6 548.8 434.9 557.6"/>
</g>
<path d="M387.9 588.3L418.6 536.8L360 561L385.3 574.7Z" fill="none" stroke="#c4c4c4" stroke-width="4.2" stroke-linejoin="round" opacity="0.5"/>
<line x1="388.3" y1="574.7" x2="418.6" y2="536.8" stroke="#8cc4e4" stroke-width="0.7" />
<circle cx="356.5" cy="561.5" r="3.6" fill="#e2e2e2"/>
<circle cx="388.3" cy="574.7" r="3.2" fill="#8a8a8a"/>
<path d="M388.4 586.3L418.1 537.3L360 560.5L384.8 573.9" fill="none" stroke="#141414" stroke-width="1.5" stroke-linejoin="round"/>
<polygon points="360,560.5 362.5,557.5 363.9,560.7" fill="#3d8fd0" stroke="#000" stroke-width="0.5"/>
<polygon points="384.8,573.9 380.9,574.1 382.3,570.9" fill="#3d8fd0" stroke="#000" stroke-width="0.5"/>
<polygon points="418.1,537.3 417.8,541.2 414.8,539.4" fill="#3d8fd0" stroke="#000" stroke-width="0.5"/>
<g fill="#111">
<circle cx="401.9" cy="511.8" r="0.9"/>
<circle cx="376.4" cy="523.1" r="0.9"/>
<circle cx="397.4" cy="524" r="0.9"/>
<circle cx="388.3" cy="528.8" r="0.9"/>
<circle cx="386.4" cy="531.3" r="0.9"/>
<circle cx="426" cy="528.2" r="0.9"/>
<circle cx="423.8" cy="538.3" r="0.9"/>
<circle cx="435.6" cy="539.7" r="0.9"/>
<circle cx="442.9" cy="544.6" r="0.9"/>
<circle cx="423.8" cy="545.5" r="0.9"/>
<circle cx="430.2" cy="555" r="0.9"/>
<circle cx="439.8" cy="563.4" r="0.9"/>
<circle cx="382.8" cy="544.6" r="0.9"/>
<circle cx="401" cy="547.7" r="0.9"/>
<circle cx="406.5" cy="549.2" r="0.9"/>
<circle cx="408.3" cy="541" r="0.9"/>
<circle cx="389.2" cy="534.6" r="0.9"/>
<circle cx="414" cy="531" r="0.9"/>
<circle cx="417" cy="536" r="0.9"/>
</g>
<line x1="420.6" y1="531.8" x2="420.6" y2="518.2" stroke="#f01010" stroke-width="1.8" />
<circle cx="420.6" cy="533.8" r="3.3" fill="#ee1111"/>
<circle cx="387.9" cy="588.3" r="3.3" fill="#0a0a8a"/>
<text x="402.4" y="537" font-size="7.5" text-anchor="middle" font-weight="normal" font-family="DejaVu Sans, sans-serif" fill="#222" >home</text>
<text x="388.2" y="598.2" font-size="7.5" text-anchor="middle" font-weight="normal" font-family="DejaVu Sans, sans-serif" fill="#000" >start</text>
<path d="M495.7 497.4H640.7M495.1 510.3H641.1M494.6 522.5H641.5M494 536H641.9M493.5 548.9H642.3M492.9 562H642.7M492.3 575.5H643.1M491.8 589H643.5M491.2 602.2H643.9M495.7 497.4L491.2 602.2M513.8 497.4L510.3 602.2M532 497.4L529.4 602.2M550.1 497.4L548.5 602.2M568.2 497.4L567.5 602.2M586.3 497.4L586.6 602.2M604.5 497.4L605.7 602.2M622.6 497.4L624.8 602.2M640.7 497.4L643.9 602.2" stroke="#d4d4d4" stroke-width="0.9" fill="none"/>
<text x="567.2" y="619.8" font-size="11.3" text-anchor="middle" font-weight="normal" font-family="Liberation Sans, Arial, sans-serif" fill="#000" >Model simulations</text>
<line x1="495.1" y1="486.5" x2="497.3" y2="524.1" stroke="#000" stroke-width="2" />
<polygon points="495.1,480.3 496.6,484.5 501,484.6 497.5,487.3 498.7,491.5 495.1,489 491.5,491.5 492.7,487.3 489.2,484.6 493.6,484.5" fill="#8b0000"/>
<line x1="567.4" y1="466.3" x2="567.4" y2="504.2" stroke="#000" stroke-width="2" />
<polygon points="567.4,460.1 568.9,464.3 573.3,464.4 569.8,467.1 571,471.3 567.4,468.8 563.8,471.3 565,467.1 561.5,464.4 565.9,464.3" fill="#8b0000"/>
<line x1="638.8" y1="486.5" x2="637.1" y2="524.1" stroke="#000" stroke-width="2" />
<polygon points="638.8,480.3 640.3,484.5 644.7,484.6 641.2,487.3 642.4,491.5 638.8,489 635.2,491.5 636.4,487.3 632.9,484.6 637.3,484.5" fill="#8b0000"/>
<g fill="none" stroke="#a8a8a8" stroke-width="0.45" opacity="0.42">
<path d="M567.3 589.6L593.8 531Q565.7 550.5 532.7 558.6L567.6 572.7Q578.8 548.6 597.6 537.1"/>
<path d="M568.1 588.2L603.1 533.7Q568.8 544.4 534.9 561.8L571.3 575Q583.5 548.7 599.5 530.7"/>
<path d="M566.1 587.5L598 531.6Q568.3 548.6 540.4 563.3L566.4 572.3Q585.7 557.4 605.1 534.2"/>
<path d="M567.4 588L599.2 532.6Q559.9 544.2 524.2 560L572.3 577.2Q593.6 553.8 611.6 535.1"/>
<path d="M567.4 588.9L594.9 535.3Q565.5 548.1 539.3 563.3L563.6 575.2Q574.3 562 602 530.9"/>
<path d="M565 587.8L603.1 534.6Q566 546 533.1 561.2L568.5 576.2Q576.4 554.2 596.7 536"/>
<path d="M567.4 586.9L600.2 539.3Q566.1 554.8 533 560.3L567.2 578.5Q577.7 565.5 595 536.6"/>
<path d="M566 588.6L596.9 532.7Q565.2 544.5 531.7 559.9L572 573.5Q589.9 556.7 610.5 539.7"/>
<path d="M567.5 588.4L594.8 533.9Q568.5 544.9 538.1 561.2L568.3 574.8Q587.6 555.2 598.8 538"/>
<path d="M568.2 587.7L599.8 535.7Q566.1 547.9 534.3 561.2L570.4 573.4Q584.6 552.8 602 538.1"/>
<path d="M566.9 588.8L595.8 533.7Q564.7 549.4 536.8 565.2L563 572.6Q586.1 553.6 604.2 534.7"/>
<path d="M568.1 588.9L600.1 534.1Q573.4 548.3 539.8 562.8L568.1 576.5Q586.1 558.8 601.1 531.6"/>
<path d="M565.7 588.6L598.2 530.1Q566.1 550.4 536.6 558.9L567.6 573.6Q585.3 560.2 603.9 537.4"/>
<path d="M565.2 588.9L602.2 533.1Q567 545 536.5 557.8L566.1 575.4Q576.2 549 595.7 529.1"/>
<path d="M565.6 589.2L602.5 533.9Q567.2 545 534 560.9L567 572.9Q575.2 552 598.1 536.1"/>
<path d="M567.2 587.3L601.9 535.2Q569.2 550.6 535.9 563.4L570.5 573.8Q580.8 552 600.4 533.1"/>
<path d="M569.1 588.6L601.9 533.4Q572 545.6 541.7 561.4L566.8 574.1Q581.7 560.8 600.8 533.7"/>
<path d="M565.1 588.2L597.2 532.3Q565.3 545.1 536.5 562L568.7 577.4Q575.6 551.3 596.9 532.9"/>
<path d="M567.6 587.5L604.9 529.8Q569.5 541.2 538.8 556.7L565.9 571.9Q578.3 551.5 600.6 536.2"/>
<path d="M566.1 587.8L599.7 535.5Q567.2 541 533.6 555.5L566.2 576.6Q572.7 551.2 596.6 535.8"/>
<path d="M566.5 586.2L597 534.5Q565.1 549.6 534.2 559L568.8 572.5Q578.9 553.5 596.1 533.5"/>
<path d="M567.4 588.2L605.1 530.7Q573 540.5 536.7 558.8L573.4 575.3Q592.5 553.3 603.7 535.9"/>
<path d="M567.4 589.2L601.6 534.9Q562.2 546 529.5 561.1L566.2 578.1Q587.5 559.3 602.5 536.6"/>
<path d="M564.8 589.2L599 531.2Q570.9 544.5 537.5 559.7L566.3 577.6Q575.7 552.9 592.5 530.4"/>
<path d="M567.4 589.6L596.2 531Q565.3 546 533.4 560.3L564 575.2Q580 559 597.4 538"/>
<path d="M565.3 588.1L595.2 536.3Q563 545.9 532 558.4L565.9 579.7Q578.5 569.5 596.1 539.5"/>
<path d="M566.8 587.8L597.8 535.1Q559.9 552.2 534.3 563.3L568.9 576.8Q579.9 562.3 606.5 537.8"/>
<path d="M568 587.4L602.6 530.1Q571 543.9 539.3 559.8L566.4 574.2Q578.9 555.2 598.3 536.8"/>
<path d="M565.9 588.7L601.5 531.4Q568 553.7 539.1 564.3L567.7 578Q573.1 559.3 592 538.7"/>
<path d="M566.5 588.8L596 533.1Q568.1 547.4 537.3 560.6L565 578.1Q575.7 554.9 594.5 534.9"/>
<path d="M566.7 588.8L599.3 534.8Q567.7 548.3 540.2 561.6L567.4 573.3Q586.1 556.4 606 537.5"/>
<path d="M567.2 587.4L597.2 533.5Q575 550.3 542.4 561.9L563 577.6Q577.7 556.6 603.9 536.8"/>
<path d="M571.3 586.9L595.7 532.9Q567.5 548.8 532.8 559.1L569.3 577.7Q583.2 557.9 595 536.4"/>
<path d="M566.1 588.4L600.2 531.4Q570.6 546.4 535.1 563.7L568.4 574.7Q591 552.2 610.5 536.6"/>
<path d="M566.7 588L596.4 534.9Q565.8 549.7 531.7 563.2L564.9 577.6Q574.8 560 601.8 538.2"/>
<path d="M566.8 587.8L591.6 534.7Q559.7 546.8 531.6 558.1L568.3 568.4Q580 551.7 597.5 536.8"/>
<path d="M565.4 587.8L601.5 532Q569.2 547.5 535.5 559.9L563.6 570Q572.2 551 597.1 532.5"/>
<path d="M567.2 587.4L603 534.5Q570.5 547.6 538.5 557.4L570.4 580.1Q580.6 559.7 602.6 538.1"/>
<path d="M567 588.5L597.3 531.5Q566.5 547.5 535.9 567.9L564.4 575.9Q574 555.8 605.8 532.9"/>
<path d="M568.4 588.9L599.6 531.1Q569.8 546.4 540.3 564.1L569.7 578.5Q584.4 556.9 596.5 531.8"/>
<path d="M567.9 588.5L601.7 531.5Q570 548.8 536.2 562.1L570.3 570.8Q582 551.2 599.8 532.9"/>
<path d="M567.2 588.2L601.8 536.6Q568.8 544.1 536.2 558.8L572.5 576.9Q585.9 554.5 609.2 533.6"/>
<path d="M567.7 587.1L592.7 533.7Q564.2 546.1 532.3 561.7L563.9 571.5Q573.7 559.7 592.5 531.1"/>
<path d="M568.2 588.5L595 530.3Q560.2 548 530.8 559.4L567.4 573.2Q580.8 555.8 598.5 532"/>
<path d="M566.1 588.1L603.7 535Q570.1 545.7 536.2 555.7L567.5 573.9Q577.9 563.1 599.7 538.1"/>
<path d="M566.6 588.4L603 534.3Q565.4 546.8 532.5 558.9L570.8 576Q581.5 557.5 597.2 534.4"/>
<path d="M565.6 587.7L599 536.5Q571.8 550.7 535.7 565.6L568.4 577.8Q570.4 551.9 600 529.4"/>
<path d="M566.4 588.8L598.7 533.1Q567.3 548.3 536.7 562.1L565.6 572.8Q578.8 551.8 607 532.2"/>
<path d="M568.5 589.3L599.5 534Q575 548.2 539.4 560.7L567.8 572.1Q574.9 554.3 602.2 534.6"/>
<path d="M566.1 589.3L600.5 534.2Q571.6 545.4 541.3 563.6L573.5 572.8Q584.2 549 598.9 534.5"/>
</g>
<g fill="none" stroke="#9a9a9a" stroke-width="0.4" opacity="0.4">
<path d="M565.1 574.2Q571.9 556.5 600.4 534.8"/>
<path d="M568.5 574.5Q596.3 561.6 599.7 532.3"/>
<path d="M568.3 577.3Q575.7 557.5 597 532.3"/>
<path d="M566 572.9Q585 554.6 595.1 530.5"/>
<path d="M561.7 578.4Q574.4 555.7 598.2 532.4"/>
<path d="M565.8 574.6Q573.8 554.6 601.9 536.5"/>
<path d="M564.3 573.8Q583.1 547.8 599.3 532.9"/>
<path d="M568.8 576.2Q585.2 552.3 598.7 532.8"/>
<path d="M566 575.1Q577.3 559 592.2 535.9"/>
<path d="M561.8 573.9Q572.1 552 600.9 535.5"/>
<path d="M573.4 575.2Q588.1 549.2 603.3 529.8"/>
<path d="M565.3 577.2Q570.7 552.7 596.5 531"/>
<path d="M567.4 575.5Q597.1 561.7 603.3 535.2"/>
<path d="M569.5 574.4Q591.4 553.9 603.7 532.9"/>
<path d="M565.1 576Q589.1 556.1 601.6 534.7"/>
<path d="M564.4 574.9Q564.6 552.9 605.2 530.9"/>
<path d="M563.3 577.4Q577.2 548.6 600.1 531"/>
<path d="M569.2 576.5Q582.1 563.8 603.2 536.9"/>
<path d="M569.2 572.2Q577.2 542.5 603.7 531.2"/>
<path d="M564 570.5Q565.4 548.6 595.9 531.3"/>
<path d="M570.5 574.1Q576.3 564.4 600.9 537.1"/>
<path d="M567.1 574.6Q569.1 561.7 600.7 537.8"/>
<path d="M565.4 574.9Q587.4 555.1 596.6 526.3"/>
<path d="M563.1 572.9Q593.8 552.5 596 533.7"/>
<path d="M560.6 576.2Q578.2 552.6 596.9 529.1"/>
<path d="M568 576.1Q582.8 558.7 602.4 527.6"/>
<path d="M572.2 572.7Q582.7 550.4 594.2 530.5"/>
<path d="M570.5 574.3Q577.1 557.4 595.8 530.5"/>
<path d="M573.2 572.7Q572.7 546.1 600.9 533.6"/>
<path d="M573.5 573.8Q585.7 558.6 599.3 535.2"/>
<path d="M564.1 573.9Q571.7 544.3 600.4 534.8"/>
<path d="M570.7 576.4Q566.5 552.6 602.4 533.4"/>
<path d="M575.3 575.3Q578.1 558 600.3 529"/>
<path d="M568.6 574.4Q586.9 554.2 603.3 535.9"/>
<path d="M569 576.8Q579.2 551.8 600.5 530.1"/>
<path d="M569 577.2Q586.8 557.7 599.4 532.5"/>
<path d="M564.2 575.6Q564.6 543.5 600.2 534.8"/>
<path d="M561.3 571.4Q566.4 562.8 602.5 536.8"/>
<path d="M562.8 573.1Q586.7 556.4 606 530"/>
<path d="M571.7 576Q581.3 557.8 600.4 538.4"/>
<path d="M568.9 574Q594.5 559.3 599.2 537.4"/>
<path d="M566.9 573.7Q574.8 552.7 598.5 532.7"/>
<path d="M566.4 576.8Q584.2 552.3 595.4 532.6"/>
<path d="M565.7 575.8Q579.9 557.2 599.4 530.9"/>
<path d="M560.6 576.5Q561.9 557.6 594.5 535.9"/>
<path d="M567.2 576.8Q572.7 556 599.4 532.6"/>
<path d="M566.4 576.5Q586 558.1 600.9 537.5"/>
<path d="M567.1 576Q584.2 550.8 601.9 529.9"/>
<path d="M568.6 576.3Q586.3 544.6 593.9 533.5"/>
<path d="M568.2 574.8Q587.4 555.9 598 536.5"/>
<path d="M573 577.6Q590.5 567.4 600.2 536.3"/>
<path d="M570.6 576.1Q595.5 555.7 600 536"/>
<path d="M567 572.8Q578.9 549.5 607.3 532.7"/>
<path d="M572.1 575.5Q595.4 554.8 593.6 534.3"/>
<path d="M567.9 580.5Q585.4 571.5 599 533.3"/>
<path d="M569.2 571.5Q587.2 550.4 599.3 533.2"/>
<path d="M568 572.2Q592.9 547.6 595.9 534.1"/>
<path d="M561.1 577.1Q575.8 558.4 600.9 536.3"/>
<path d="M567.1 574.8Q578.9 554 605 532.7"/>
<path d="M566.7 578.1Q568.4 560.1 599.2 535.1"/>
<path d="M599.6 536.8Q604.6 548.8 607.1 551.3"/>
<path d="M599.6 536.8Q604.6 548.8 615.7 558.7"/>
<path d="M599.6 536.8Q604.6 548.8 612.7 563.6"/>
<path d="M599.6 536.8Q604.6 548.8 609.7 558.8"/>
<path d="M599.6 536.8Q604.6 548.8 606.2 562.1"/>
<path d="M599.6 536.8Q604.6 548.8 615.5 547.3"/>
</g>
<path d="M566.9 588.3L597.6 536.8L539 561L564.3 574.7Z" fill="none" stroke="#c4c4c4" stroke-width="4.2" stroke-linejoin="round" opacity="0.5"/>
<line x1="567.3" y1="574.7" x2="597.6" y2="536.8" stroke="#8cc4e4" stroke-width="0.7" />
<circle cx="535.5" cy="561.5" r="3.6" fill="#e2e2e2"/>
<circle cx="567.3" cy="574.7" r="3.2" fill="#8a8a8a"/>
<path d="M567.4 586.3L597.1 537.3L539 560.5L563.8 573.9" fill="none" stroke="#141414" stroke-width="1.5" stroke-linejoin="round"/>
<polygon points="539,560.5 541.5,557.5 542.9,560.7" fill="#3d8fd0" stroke="#000" stroke-width="0.5"/>
<polygon points="563.8,573.9 559.9,574.1 561.3,570.9" fill="#3d8fd0" stroke="#000" stroke-width="0.5"/>
<polygon points="597.1,537.3 596.8,541.2 593.8,539.4" fill="#3d8fd0" stroke="#000" stroke-width="0.5"/>
<g fill="#111">
<circle cx="602.5" cy="527.1" r="0.9"/>
<circle cx="604.6" cy="539.1" r="0.9"/>
<circle cx="602.8" cy="533" r="0.9"/>
<circle cx="601" cy="528.4" r="0.9"/>
<circle cx="596.4" cy="532.4" r="0.9"/>
<circle cx="597.1" cy="539.7" r="0.9"/>
<circle cx="601.3" cy="525.5" r="0.9"/>
<circle cx="603.7" cy="535.7" r="0.9"/>
<circle cx="598.9" cy="531.4" r="0.9"/>
<circle cx="606.9" cy="534.8" r="0.9"/>
<circle cx="600.7" cy="528.4" r="0.9"/>
<circle cx="597.7" cy="537.1" r="0.9"/>
<circle cx="600.2" cy="532.4" r="0.9"/>
<circle cx="598.7" cy="528.4" r="0.9"/>
<circle cx="590" cy="520" r="0.9"/>
<circle cx="595" cy="526" r="0.9"/>
<circle cx="604" cy="530" r="0.9"/>
<circle cx="609" cy="537" r="0.9"/>
<circle cx="613" cy="537" r="0.9"/>
<circle cx="604" cy="541" r="0.9"/>
<circle cx="615" cy="538" r="0.9"/>
<circle cx="622" cy="539" r="0.9"/>
<circle cx="616" cy="554" r="0.9"/>
<circle cx="622" cy="557" r="0.9"/>
<circle cx="589" cy="525" r="0.9"/>
<circle cx="598" cy="538" r="0.9"/>
</g>
<line x1="599.6" y1="531.8" x2="599.6" y2="518.2" stroke="#f01010" stroke-width="1.8" />
<circle cx="599.6" cy="533.8" r="3.3" fill="#ee1111"/>
<circle cx="566.9" cy="588.3" r="3.3" fill="#0a0a8a"/>
<text x="581.4" y="537" font-size="7.5" text-anchor="middle" font-weight="normal" font-family="DejaVu Sans, sans-serif" fill="#222" >home</text>
<text x="567.2" y="598.2" font-size="7.5" text-anchor="middle" font-weight="normal" font-family="DejaVu Sans, sans-serif" fill="#000" >start</text>
</svg></body></html>
